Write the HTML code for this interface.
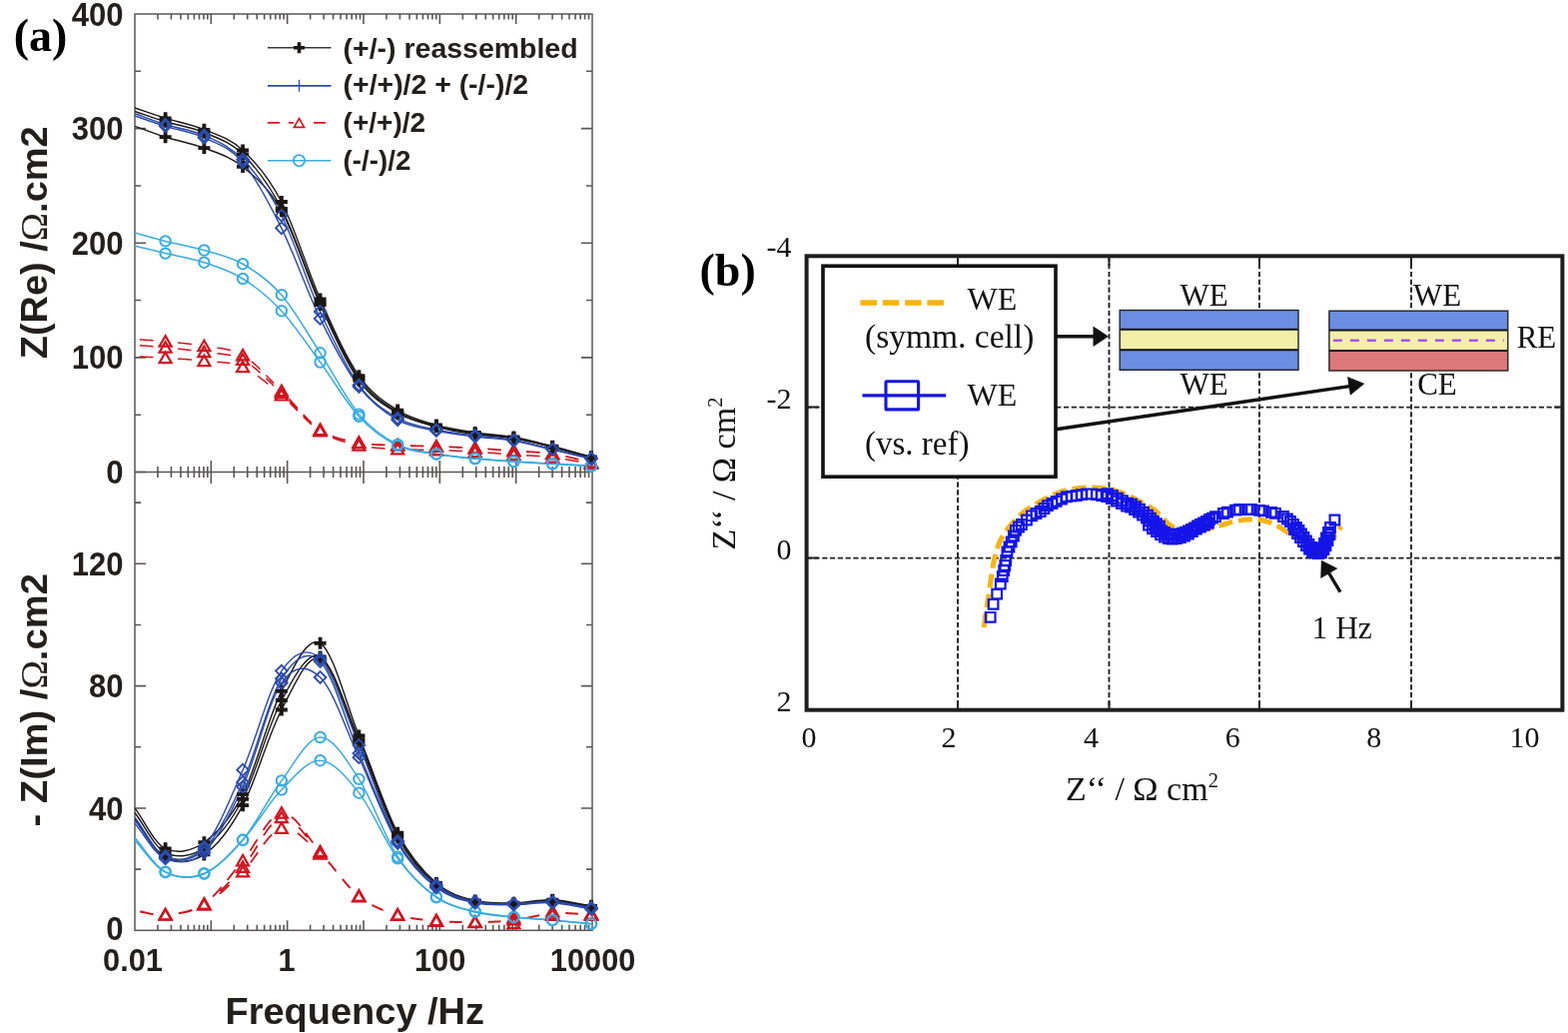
<!DOCTYPE html><html><head><meta charset="utf-8"><title>Impedance figure</title>
<style>html,body{margin:0;padding:0;background:#fff;overflow:hidden;}svg{display:block;}</style></head><body>
<svg width="1570" height="1034" viewBox="0 0 1570 1034">
<rect width="1570" height="1034" fill="#fff"/>
<defs><clipPath id="ca"><rect x="135.0" y="14.0" width="458.0" height="917.3"/></clipPath></defs>
<rect x="135.0" y="14.0" width="458.0" height="917.3" fill="none" stroke="#5a5756" stroke-width="1.5"/><line x1="135.0" y1="472.5" x2="593.0" y2="472.5" stroke="#5a5756" stroke-width="1.5"/><path d="M157.98,14.0v5.5M157.98,931.3v-5.5M157.98,467.0v11.0M171.42,14.0v5.5M171.42,931.3v-5.5M171.42,467.0v11.0M180.96,14.0v5.5M180.96,931.3v-5.5M180.96,467.0v11.0M188.35,14.0v5.5M188.35,931.3v-5.5M188.35,467.0v11.0M194.40,14.0v5.5M194.40,931.3v-5.5M194.40,467.0v11.0M199.51,14.0v5.5M199.51,931.3v-5.5M199.51,467.0v11.0M203.94,14.0v5.5M203.94,931.3v-5.5M203.94,467.0v11.0M207.84,14.0v5.5M207.84,931.3v-5.5M207.84,467.0v11.0M211.33,14.0v10.0M211.33,931.3v-10.0M211.33,461.0v23.0M234.31,14.0v5.5M234.31,931.3v-5.5M234.31,467.0v11.0M247.75,14.0v5.5M247.75,931.3v-5.5M247.75,467.0v11.0M257.29,14.0v5.5M257.29,931.3v-5.5M257.29,467.0v11.0M264.69,14.0v5.5M264.69,931.3v-5.5M264.69,467.0v11.0M270.73,14.0v5.5M270.73,931.3v-5.5M270.73,467.0v11.0M275.84,14.0v5.5M275.84,931.3v-5.5M275.84,467.0v11.0M280.27,14.0v5.5M280.27,931.3v-5.5M280.27,467.0v11.0M284.17,14.0v5.5M284.17,931.3v-5.5M284.17,467.0v11.0M287.67,14.0v10.0M287.67,931.3v-10.0M287.67,461.0v23.0M310.65,14.0v5.5M310.65,931.3v-5.5M310.65,467.0v11.0M324.09,14.0v5.5M324.09,931.3v-5.5M324.09,467.0v11.0M333.62,14.0v5.5M333.62,931.3v-5.5M333.62,467.0v11.0M341.02,14.0v5.5M341.02,931.3v-5.5M341.02,467.0v11.0M347.07,14.0v5.5M347.07,931.3v-5.5M347.07,467.0v11.0M352.18,14.0v5.5M352.18,931.3v-5.5M352.18,467.0v11.0M356.60,14.0v5.5M356.60,931.3v-5.5M356.60,467.0v11.0M360.51,14.0v5.5M360.51,931.3v-5.5M360.51,467.0v11.0M364.00,14.0v10.0M364.00,931.3v-10.0M364.00,461.0v23.0M386.98,14.0v5.5M386.98,931.3v-5.5M386.98,467.0v11.0M400.42,14.0v5.5M400.42,931.3v-5.5M400.42,467.0v11.0M409.96,14.0v5.5M409.96,931.3v-5.5M409.96,467.0v11.0M417.35,14.0v5.5M417.35,931.3v-5.5M417.35,467.0v11.0M423.40,14.0v5.5M423.40,931.3v-5.5M423.40,467.0v11.0M428.51,14.0v5.5M428.51,931.3v-5.5M428.51,467.0v11.0M432.94,14.0v5.5M432.94,931.3v-5.5M432.94,467.0v11.0M436.84,14.0v5.5M436.84,931.3v-5.5M436.84,467.0v11.0M440.33,14.0v10.0M440.33,931.3v-10.0M440.33,461.0v23.0M463.31,14.0v5.5M463.31,931.3v-5.5M463.31,467.0v11.0M476.75,14.0v5.5M476.75,931.3v-5.5M476.75,467.0v11.0M486.29,14.0v5.5M486.29,931.3v-5.5M486.29,467.0v11.0M493.69,14.0v5.5M493.69,931.3v-5.5M493.69,467.0v11.0M499.73,14.0v5.5M499.73,931.3v-5.5M499.73,467.0v11.0M504.84,14.0v5.5M504.84,931.3v-5.5M504.84,467.0v11.0M509.27,14.0v5.5M509.27,931.3v-5.5M509.27,467.0v11.0M513.17,14.0v5.5M513.17,931.3v-5.5M513.17,467.0v11.0M516.67,14.0v10.0M516.67,931.3v-10.0M516.67,461.0v23.0M539.65,14.0v5.5M539.65,931.3v-5.5M539.65,467.0v11.0M553.09,14.0v5.5M553.09,931.3v-5.5M553.09,467.0v11.0M562.62,14.0v5.5M562.62,931.3v-5.5M562.62,467.0v11.0M570.02,14.0v5.5M570.02,931.3v-5.5M570.02,467.0v11.0M576.07,14.0v5.5M576.07,931.3v-5.5M576.07,467.0v11.0M581.18,14.0v5.5M581.18,931.3v-5.5M581.18,467.0v11.0M585.60,14.0v5.5M585.60,931.3v-5.5M585.60,467.0v11.0M589.51,14.0v5.5M589.51,931.3v-5.5M589.51,467.0v11.0M135.0,472.50h11.0M135.0,415.19h6.0M593.0,415.19h-6.0M135.0,357.88h11.0M593.0,357.88h-11.0M135.0,300.56h6.0M593.0,300.56h-6.0M135.0,243.25h11.0M593.0,243.25h-11.0M135.0,185.94h6.0M593.0,185.94h-6.0M135.0,128.62h11.0M593.0,128.62h-11.0M135.0,71.31h6.0M593.0,71.31h-6.0M135.0,870.13h6.0M593.0,870.13h-6.0M135.0,808.95h11.0M593.0,808.95h-11.0M135.0,747.78h6.0M593.0,747.78h-6.0M135.0,686.61h11.0M593.0,686.61h-11.0M135.0,625.43h6.0M593.0,625.43h-6.0M135.0,564.26h11.0M593.0,564.26h-11.0M135.0,503.09h6.0M593.0,503.09h-6.0" stroke="#5a5756" stroke-width="1.6" fill="none"/>
<g clip-path="url(#ca)"><path d="M139.9,339.9 L140.3,339.9 L140.6,339.9 L141.0,340.0 L141.4,340.0 L141.7,340.0 L142.1,340.0 L142.5,340.1 L142.8,340.1 L143.2,340.1 L143.6,340.1 L143.9,340.2 L144.3,340.2 L144.7,340.2 L145.0,340.2 L145.4,340.2 L145.8,340.3 L146.1,340.3 L146.5,340.3 L146.8,340.3 L147.2,340.4 L147.6,340.4 L147.9,340.4 L148.3,340.4 L148.7,340.5 L149.1,340.5 L149.4,340.5 L149.8,340.5 L150.2,340.6 L150.5,340.6 L150.9,340.6 L151.3,340.6 L151.6,340.7 L152.0,340.7 L152.4,340.7 L152.8,340.7 L153.1,340.8 L153.5,340.8M178.1,343.0 L178.6,343.1 L179.0,343.1 L179.5,343.2 L180.0,343.2 L180.5,343.3 L181.0,343.3 L181.5,343.4 L182.0,343.4 L182.5,343.5 L183.0,343.5 L183.5,343.6 L184.0,343.6 L184.5,343.7 L185.0,343.7 L185.5,343.8 L186.0,343.9 L186.5,343.9 L187.0,344.0 L187.5,344.0 L188.0,344.1 L188.5,344.1 L189.0,344.2 L189.5,344.3 L190.0,344.3 L190.5,344.4 L191.0,344.4 L191.5,344.5 L192.0,344.6M217.4,348.2 L217.9,348.2 L218.4,348.3 L218.9,348.3 L219.4,348.4 L219.9,348.5 L220.3,348.5 L220.8,348.6 L221.3,348.7 L221.8,348.7 L222.3,348.8 L222.8,348.9 L223.3,349.0 L223.7,349.0 L224.2,349.1 L224.7,349.2 L225.2,349.3 L225.7,349.4 L226.2,349.5 L226.6,349.6 L227.1,349.7 L227.6,349.8 L228.1,349.9 L228.6,350.0 L229.1,350.1 L229.6,350.2 L230.0,350.3 L230.5,350.5 L231.0,350.6M251.8,361.8 L252.3,362.2 L252.8,362.6 L253.3,363.0 L253.8,363.4 L254.3,363.8 L254.7,364.3 L255.2,364.7 L255.7,365.1 L256.2,365.6 L256.7,366.0 L257.2,366.5 L257.7,366.9 L258.1,367.4 L258.6,367.8 L259.1,368.3 L259.6,368.8 L260.1,369.2 L260.6,369.7M266.4,375.5 L266.9,376.0 L267.3,376.5 L267.8,377.0 L268.3,377.5 L268.8,378.0 L269.3,378.5 L269.8,379.0 L270.3,379.6 L270.7,380.1 L271.2,380.6 L271.7,381.1 L272.2,381.6 L272.7,382.1 L273.2,382.6 L273.6,383.1 L274.1,383.6M289.6,399.3 L290.1,399.9 L290.6,400.4 L291.1,400.9 L291.6,401.5 L292.1,402.0 L292.5,402.5 L293.0,403.1 L293.5,403.6 L294.0,404.1 L294.5,404.7 L295.0,405.2 L295.4,405.8 L295.9,406.3 L296.4,406.8 L296.9,407.4 L297.4,407.9 L297.9,408.5M303.7,414.8 L304.2,415.4 L304.7,415.9 L305.1,416.4 L305.6,416.9 L306.1,417.4 L306.6,417.9 L307.1,418.4 L307.6,418.9 L308.0,419.4 L308.5,419.9 L309.0,420.4 L309.5,420.8 L310.0,421.3 L310.5,421.8 L310.9,422.2 L311.4,422.7 L311.9,423.2M332.8,436.5 L333.2,436.7 L333.7,436.9 L334.2,437.0 L334.7,437.2 L335.2,437.4 L335.7,437.5 L336.1,437.7 L336.6,437.9 L337.1,438.0 L337.6,438.2 L338.1,438.3 L338.6,438.5 L339.1,438.6 L339.5,438.8 L340.0,438.9 L340.5,439.0 L341.0,439.2 L341.5,439.3 L342.0,439.4 L342.4,439.5 L342.9,439.7 L343.4,439.8 L343.9,439.9 L344.4,440.0 L344.9,440.1 L345.3,440.2 L345.8,440.3M372.0,444.7 L372.5,444.7 L373.0,444.7 L373.5,444.8 L373.9,444.8 L374.4,444.8 L374.9,444.9 L375.4,444.9 L375.9,444.9 L376.4,444.9 L376.8,445.0 L377.3,445.0 L377.8,445.0 L378.3,445.0 L378.8,445.0 L379.3,445.1 L379.7,445.1 L380.2,445.1 L380.7,445.1 L381.2,445.1 L381.7,445.1 L382.2,445.1 L382.7,445.1 L383.1,445.2 L383.6,445.2 L384.1,445.2 L384.6,445.2 L385.1,445.2 L385.6,445.2M410.8,446.0 L411.2,446.0 L411.7,446.0 L412.2,446.1 L412.7,446.1 L413.2,446.1 L413.7,446.1 L414.1,446.1 L414.6,446.1 L415.1,446.1 L415.6,446.1 L416.1,446.2 L416.6,446.2 L417.1,446.2 L417.5,446.2 L418.0,446.2 L418.5,446.2 L419.0,446.2 L419.5,446.2 L420.0,446.2 L420.4,446.3 L420.9,446.3 L421.4,446.3 L421.9,446.3 L422.4,446.3 L422.9,446.3 L423.4,446.3 L423.8,446.3 L424.3,446.3M449.5,447.2 L450.0,447.2 L450.5,447.2 L451.0,447.2 L451.5,447.3 L451.9,447.3 L452.4,447.3 L452.9,447.3 L453.4,447.3 L453.9,447.4 L454.4,447.4 L454.8,447.4 L455.3,447.4 L455.8,447.4 L456.3,447.5 L456.8,447.5 L457.3,447.5 L457.8,447.5 L458.2,447.6 L458.7,447.6 L459.2,447.6 L459.7,447.6 L460.2,447.6 L460.7,447.7 L461.1,447.7 L461.6,447.7 L462.1,447.7 L462.6,447.8 L463.1,447.8M488.3,449.2 L488.8,449.3 L489.2,449.3 L489.7,449.3 L490.2,449.4 L490.7,449.4 L491.2,449.4 L491.7,449.5 L492.2,449.5 L492.6,449.5 L493.1,449.6 L493.6,449.6 L494.1,449.7 L494.6,449.7 L495.1,449.7 L495.5,449.8 L496.0,449.8 L496.5,449.8 L497.0,449.9 L497.5,449.9 L498.0,449.9 L498.5,450.0 L498.9,450.0 L499.4,450.0 L499.9,450.1 L500.4,450.1 L500.9,450.2 L501.4,450.2 L501.8,450.2M527.0,451.9 L527.5,452.0 L528.0,452.0 L528.5,452.0 L529.0,452.0 L529.5,452.1 L529.9,452.1 L530.4,452.1 L530.9,452.1 L531.4,452.2 L531.9,452.2 L532.4,452.2 L532.9,452.2 L533.3,452.3 L533.8,452.3 L534.3,452.3 L534.8,452.4 L535.3,452.4 L535.8,452.4 L536.2,452.5 L536.7,452.5 L537.2,452.5 L537.7,452.6 L538.2,452.6 L538.7,452.6 L539.1,452.7 L539.6,452.7 L540.1,452.7 L540.6,452.8M566.3,456.6 L566.8,456.8 L567.3,456.9 L567.7,457.0 L568.2,457.1 L568.7,457.2 L569.2,457.3 L569.7,457.4 L570.2,457.5 L570.6,457.6 L571.1,457.8 L571.6,457.9 L572.1,458.0 L572.6,458.1 L573.1,458.2 L573.5,458.3 L574.0,458.5 L574.5,458.6 L575.0,458.7 L575.5,458.8 L576.0,458.9 L576.5,459.0 L576.9,459.2 L577.4,459.3 L577.9,459.4 L578.4,459.5 L578.9,459.6 L579.4,459.8M139.9,345.7 L140.3,345.7 L140.6,345.7 L141.0,345.8 L141.4,345.8 L141.7,345.8 L142.1,345.9 L142.5,345.9 L142.8,345.9 L143.2,345.9 L143.6,346.0 L143.9,346.0 L144.3,346.0 L144.7,346.1 L145.0,346.1 L145.4,346.1 L145.8,346.1 L146.1,346.2 L146.5,346.2 L146.8,346.2 L147.2,346.3 L147.6,346.3 L147.9,346.3 L148.3,346.4 L148.7,346.4 L149.1,346.4 L149.4,346.4 L149.8,346.5 L150.2,346.5 L150.5,346.5 L150.9,346.6 L151.3,346.6 L151.6,346.6 L152.0,346.7 L152.4,346.7 L152.8,346.7 L153.1,346.7 L153.5,346.8M178.1,349.2 L178.6,349.2 L179.0,349.2 L179.5,349.3 L180.0,349.3 L180.5,349.4 L181.0,349.4 L181.5,349.5 L182.0,349.6 L182.5,349.6 L183.0,349.7 L183.5,349.7 L184.0,349.8 L184.5,349.8 L185.0,349.9 L185.5,349.9 L186.0,350.0 L186.5,350.0 L187.0,350.1 L187.5,350.1 L188.0,350.2 L188.5,350.3 L189.0,350.3 L189.5,350.4 L190.0,350.4 L190.5,350.5 L191.0,350.5 L191.5,350.6M217.4,353.8 L217.9,353.8 L218.4,353.9 L218.9,353.9 L219.4,354.0 L219.9,354.0 L220.3,354.1 L220.8,354.1 L221.3,354.2 L221.8,354.2 L222.3,354.3 L222.8,354.4 L223.3,354.4 L223.7,354.5 L224.2,354.5 L224.7,354.6 L225.2,354.7 L225.7,354.7 L226.2,354.8 L226.6,354.9 L227.1,355.0 L227.6,355.1 L228.1,355.1 L228.6,355.2 L229.1,355.3 L229.6,355.4 L230.0,355.5 L230.5,355.6 L231.0,355.7M252.3,366.2 L252.8,366.6 L253.3,367.0 L253.8,367.4 L254.3,367.8 L254.7,368.1 L255.2,368.5 L255.7,368.9 L256.2,369.4 L256.7,369.8 L257.2,370.2 L257.7,370.6 L258.1,371.0 L258.6,371.4 L259.1,371.9 L259.6,372.3 L260.1,372.7 L260.6,373.2M266.4,378.6 L266.9,379.1 L267.3,379.5 L267.8,380.0 L268.3,380.5 L268.8,380.9 L269.3,381.4 L269.8,381.9 L270.3,382.3 L270.7,382.8 L271.2,383.3 L271.7,383.8 L272.2,384.2 L272.7,384.7 L273.2,385.2 L273.6,385.6 L274.1,386.1M289.6,401.0 L290.1,401.5 L290.6,402.0 L291.1,402.5 L291.6,403.0 L292.1,403.5 L292.5,404.0 L293.0,404.5 L293.5,405.0 L294.0,405.5 L294.5,406.1 L295.0,406.6 L295.4,407.1 L295.9,407.6 L296.4,408.1 L296.9,408.6 L297.4,409.1 L297.9,409.7M303.7,415.8 L304.2,416.3 L304.7,416.8 L305.1,417.3 L305.6,417.7 L306.1,418.2 L306.6,418.7 L307.1,419.2 L307.6,419.7 L308.0,420.1 L308.5,420.6 L309.0,421.1 L309.5,421.5 L310.0,422.0 L310.5,422.4 L310.9,422.9 L311.4,423.3 L311.9,423.8M332.8,436.7 L333.2,436.9 L333.7,437.1 L334.2,437.2 L334.7,437.4 L335.2,437.6 L335.7,437.8 L336.1,437.9 L336.6,438.1 L337.1,438.2 L337.6,438.4 L338.1,438.6 L338.6,438.7 L339.1,438.8 L339.5,439.0 L340.0,439.1 L340.5,439.3 L341.0,439.4 L341.5,439.5 L342.0,439.7 L342.4,439.8 L342.9,439.9 L343.4,440.0 L343.9,440.2 L344.4,440.3 L344.9,440.4 L345.3,440.5 L345.8,440.6M372.0,445.0 L372.5,445.1 L373.0,445.1 L373.5,445.1 L373.9,445.1 L374.4,445.2 L374.9,445.2 L375.4,445.2 L375.9,445.3 L376.4,445.3 L376.8,445.3 L377.3,445.3 L377.8,445.3 L378.3,445.4 L378.8,445.4 L379.3,445.4 L379.7,445.4 L380.2,445.4 L380.7,445.4 L381.2,445.5 L381.7,445.5 L382.2,445.5 L382.7,445.5 L383.1,445.5 L383.6,445.5 L384.1,445.5 L384.6,445.5 L385.1,445.5 L385.6,445.6M410.8,446.4 L411.2,446.4 L411.7,446.4 L412.2,446.4 L412.7,446.4 L413.2,446.4 L413.7,446.4 L414.1,446.4 L414.6,446.5 L415.1,446.5 L415.6,446.5 L416.1,446.5 L416.6,446.5 L417.1,446.5 L417.5,446.5 L418.0,446.5 L418.5,446.6 L419.0,446.6 L419.5,446.6 L420.0,446.6 L420.4,446.6 L420.9,446.6 L421.4,446.6 L421.9,446.6 L422.4,446.6 L422.9,446.7 L423.4,446.7 L423.8,446.7 L424.3,446.7M449.5,447.5 L450.0,447.6 L450.5,447.6 L451.0,447.6 L451.5,447.6 L451.9,447.6 L452.4,447.7 L452.9,447.7 L453.4,447.7 L453.9,447.7 L454.4,447.7 L454.8,447.8 L455.3,447.8 L455.8,447.8 L456.3,447.8 L456.8,447.8 L457.3,447.9 L457.8,447.9 L458.2,447.9 L458.7,447.9 L459.2,447.9 L459.7,448.0 L460.2,448.0 L460.7,448.0 L461.1,448.0 L461.6,448.0 L462.1,448.1 L462.6,448.1 L463.1,448.1M488.3,449.6 L488.8,449.6 L489.2,449.7 L489.7,449.7 L490.2,449.7 L490.7,449.8 L491.2,449.8 L491.7,449.8 L492.2,449.9 L492.6,449.9 L493.1,449.9 L493.6,450.0 L494.1,450.0 L494.6,450.0 L495.1,450.1 L495.5,450.1 L496.0,450.1 L496.5,450.2 L497.0,450.2 L497.5,450.2 L498.0,450.3 L498.5,450.3 L498.9,450.4 L499.4,450.4 L499.9,450.4 L500.4,450.5 L500.9,450.5 L501.4,450.5 L501.8,450.6M527.0,452.3 L527.5,452.3 L528.0,452.3 L528.5,452.4 L529.0,452.4 L529.5,452.4 L529.9,452.4 L530.4,452.5 L530.9,452.5 L531.4,452.5 L531.9,452.5 L532.4,452.6 L532.9,452.6 L533.3,452.6 L533.8,452.7 L534.3,452.7 L534.8,452.7 L535.3,452.7 L535.8,452.8 L536.2,452.8 L536.7,452.8 L537.2,452.9 L537.7,452.9 L538.2,452.9 L538.7,453.0 L539.1,453.0 L539.6,453.0 L540.1,453.1 L540.6,453.1M566.3,457.0 L566.8,457.1 L567.3,457.2 L567.7,457.3 L568.2,457.4 L568.7,457.5 L569.2,457.6 L569.7,457.7 L570.2,457.8 L570.6,457.9 L571.1,458.1 L571.6,458.2 L572.1,458.3 L572.6,458.4 L573.1,458.5 L573.5,458.6 L574.0,458.7 L574.5,458.9 L575.0,459.0 L575.5,459.1 L576.0,459.2 L576.5,459.3 L576.9,459.4 L577.4,459.6 L577.9,459.7 L578.4,459.8 L578.9,459.9 L579.4,460.0M139.9,357.0 L140.3,357.0 L140.6,357.0 L141.0,357.0 L141.4,357.0 L141.7,357.1 L142.1,357.1 L142.5,357.1 L142.8,357.1 L143.2,357.1 L143.6,357.1 L143.9,357.2 L144.3,357.2 L144.7,357.2 L145.0,357.2 L145.4,357.2 L145.8,357.3 L146.1,357.3 L146.5,357.3 L146.8,357.3 L147.2,357.3 L147.6,357.3 L147.9,357.4 L148.3,357.4 L148.7,357.4 L149.1,357.4 L149.4,357.4 L149.8,357.4 L150.2,357.5 L150.5,357.5 L150.9,357.5 L151.3,357.5 L151.6,357.5 L152.0,357.6 L152.4,357.6 L152.8,357.6 L153.1,357.6 L153.5,357.6M178.1,359.1 L178.6,359.2 L179.0,359.2 L179.5,359.2 L180.0,359.2 L180.5,359.3 L181.0,359.3 L181.5,359.3 L182.0,359.4 L182.5,359.4 L183.0,359.4 L183.5,359.5 L184.0,359.5 L184.5,359.5 L185.0,359.6 L185.5,359.6 L186.0,359.6 L186.5,359.7 L187.0,359.7 L187.5,359.8 L188.0,359.8 L188.5,359.8 L189.0,359.9 L189.5,359.9 L190.0,359.9 L190.5,360.0 L191.0,360.0 L191.5,360.1 L192.0,360.1M217.4,362.3 L217.9,362.3 L218.4,362.4 L218.9,362.4 L219.4,362.4 L219.9,362.5 L220.3,362.5 L220.8,362.5 L221.3,362.6 L221.8,362.6 L222.3,362.6 L222.8,362.7 L223.3,362.7 L223.7,362.8 L224.2,362.8 L224.7,362.9 L225.2,362.9 L225.7,363.0 L226.2,363.0 L226.6,363.1 L227.1,363.1 L227.6,363.2 L228.1,363.3 L228.6,363.3 L229.1,363.4 L229.6,363.5 L230.0,363.6 L230.5,363.7M258.1,376.4 L258.6,376.7 L259.1,377.1 L259.6,377.5 L260.1,377.8 L260.6,378.2 L261.0,378.6 L261.5,378.9 L262.0,379.3 L262.5,379.7 L263.0,380.1 L263.5,380.4 L264.0,380.8 L264.4,381.2 L264.9,381.6 L265.4,382.0 L265.9,382.4 L266.4,382.8 L266.9,383.1 L267.3,383.5 L267.8,383.9 L268.3,384.3M290.1,403.2 L290.6,403.7 L291.1,404.2 L291.6,404.7 L292.1,405.2 L292.5,405.6 L293.0,406.1 L293.5,406.6 L294.0,407.1 L294.5,407.6 L295.0,408.1 L295.4,408.6 L295.9,409.1 L296.4,409.6 L296.9,410.1 L297.4,410.6 L297.9,411.1M303.7,417.0 L304.2,417.5 L304.7,418.0 L305.1,418.5 L305.6,419.0 L306.1,419.5 L306.6,419.9 L307.1,420.4 L307.6,420.9 L308.0,421.3 L308.5,421.8 L309.0,422.3 L309.5,422.7 L310.0,423.2 L310.5,423.6 L310.9,424.1 L311.4,424.5 L311.9,424.9M333.2,438.3 L333.7,438.5 L334.2,438.7 L334.7,438.8 L335.2,439.0 L335.7,439.2 L336.1,439.4 L336.6,439.6 L337.1,439.8 L337.6,439.9 L338.1,440.1 L338.6,440.3 L339.1,440.4 L339.5,440.6 L340.0,440.8 L340.5,440.9 L341.0,441.1 L341.5,441.2 L342.0,441.4 L342.4,441.5 L342.9,441.7 L343.4,441.8 L343.9,441.9 L344.4,442.1 L344.9,442.2 L345.3,442.4 L345.8,442.5M372.0,447.9 L372.5,447.9 L373.0,448.0 L373.5,448.0 L373.9,448.1 L374.4,448.1 L374.9,448.2 L375.4,448.2 L375.9,448.3 L376.4,448.3 L376.8,448.4 L377.3,448.4 L377.8,448.4 L378.3,448.5 L378.8,448.5 L379.3,448.5 L379.7,448.6 L380.2,448.6 L380.7,448.6 L381.2,448.7 L381.7,448.7 L382.2,448.7 L382.7,448.8 L383.1,448.8 L383.6,448.8 L384.1,448.8 L384.6,448.9 L385.1,448.9 L385.6,448.9M410.8,450.1 L411.2,450.1 L411.7,450.1 L412.2,450.1 L412.7,450.1 L413.2,450.1 L413.7,450.1 L414.1,450.1 L414.6,450.1 L415.1,450.1 L415.6,450.1 L416.1,450.1 L416.6,450.1 L417.1,450.1 L417.5,450.2 L418.0,450.2 L418.5,450.2 L419.0,450.2 L419.5,450.2 L420.0,450.2 L420.4,450.2 L420.9,450.2 L421.4,450.2 L421.9,450.2 L422.4,450.2 L422.9,450.2 L423.4,450.2 L423.8,450.2 L424.3,450.2M449.5,451.0 L450.0,451.0 L450.5,451.0 L451.0,451.1 L451.5,451.1 L451.9,451.1 L452.4,451.1 L452.9,451.1 L453.4,451.2 L453.9,451.2 L454.4,451.2 L454.8,451.2 L455.3,451.2 L455.8,451.3 L456.3,451.3 L456.8,451.3 L457.3,451.3 L457.8,451.4 L458.2,451.4 L458.7,451.4 L459.2,451.4 L459.7,451.5 L460.2,451.5 L460.7,451.5 L461.1,451.5 L461.6,451.6 L462.1,451.6 L462.6,451.6 L463.1,451.6M488.3,453.2 L488.8,453.2 L489.2,453.2 L489.7,453.3 L490.2,453.3 L490.7,453.3 L491.2,453.4 L491.7,453.4 L492.2,453.4 L492.6,453.5 L493.1,453.5 L493.6,453.5 L494.1,453.6 L494.6,453.6 L495.1,453.6 L495.5,453.7 L496.0,453.7 L496.5,453.8 L497.0,453.8 L497.5,453.8 L498.0,453.9 L498.5,453.9 L498.9,453.9 L499.4,454.0 L499.9,454.0 L500.4,454.0 L500.9,454.1 L501.4,454.1 L501.8,454.2M527.0,455.8 L527.5,455.9 L528.0,455.9 L528.5,455.9 L529.0,455.9 L529.5,456.0 L529.9,456.0 L530.4,456.0 L530.9,456.1 L531.4,456.1 L531.9,456.1 L532.4,456.1 L532.9,456.2 L533.3,456.2 L533.8,456.2 L534.3,456.3 L534.8,456.3 L535.3,456.3 L535.8,456.3 L536.2,456.4 L536.7,456.4 L537.2,456.4 L537.7,456.5 L538.2,456.5 L538.7,456.5 L539.1,456.6 L539.6,456.6 L540.1,456.6 L540.6,456.7M565.8,459.6 L566.3,459.7 L566.8,459.8 L567.3,459.9 L567.7,460.0 L568.2,460.0 L568.7,460.1 L569.2,460.2 L569.7,460.3 L570.2,460.4 L570.6,460.5 L571.1,460.6 L571.6,460.6 L572.1,460.7 L572.6,460.8 L573.1,460.9 L573.5,461.0 L574.0,461.1 L574.5,461.2 L575.0,461.2 L575.5,461.3 L576.0,461.4 L576.5,461.5 L576.9,461.6 L577.4,461.7 L577.9,461.8 L578.4,461.9 L578.9,461.9 L579.4,462.0" stroke="#d21420" stroke-width="1.5" fill="none"/><path d="M140.3,912.1 L140.6,912.2 L141.0,912.3 L141.4,912.4 L141.7,912.4 L142.1,912.5 L142.5,912.6 L142.8,912.7 L143.2,912.8 L143.6,912.9 L143.9,913.0 L144.3,913.1 L144.7,913.1 L145.0,913.2 L145.4,913.3 L145.8,913.4 L146.1,913.5 L146.5,913.6 L146.8,913.7 L147.2,913.8 L147.6,913.9 L147.9,913.9 L148.3,914.0 L148.7,914.1 L149.1,914.2 L149.4,914.3 L149.8,914.4 L150.2,914.4 L150.5,914.5 L150.9,914.6 L151.3,914.7 L151.6,914.8 L152.0,914.8 L152.4,914.9 L152.8,915.0 L153.1,915.0 L153.5,915.1M179.0,914.3 L179.5,914.2 L180.0,914.2 L180.5,914.1 L181.0,914.0 L181.5,913.9 L182.0,913.8 L182.5,913.7 L183.0,913.7 L183.5,913.6 L184.0,913.5 L184.5,913.3 L185.0,913.2 L185.5,913.1 L186.0,913.0 L186.5,912.9 L187.0,912.8 L187.5,912.6 L188.0,912.5 L188.5,912.4 L189.0,912.2 L189.5,912.1 L190.0,911.9 L190.5,911.8 L191.0,911.6 L191.5,911.4 L192.0,911.3 L192.5,911.1M213.1,897.5 L213.6,897.0 L214.0,896.5 L214.5,896.0 L215.0,895.5 L215.5,895.0 L216.0,894.5 L216.5,894.0 L217.0,893.5 L217.4,892.9 L217.9,892.4 L218.4,891.8 L218.9,891.3 L219.4,890.7 L219.9,890.2 L220.3,889.6 L220.8,889.1 L221.3,888.5 L221.8,887.9M227.6,880.8 L228.1,880.2 L228.6,879.6 L229.1,879.0 L229.6,878.4 L230.0,877.8 L230.5,877.2 L231.0,876.6 L231.5,875.9 L232.0,875.3 L232.5,874.7 L232.9,874.1 L233.4,873.5 L233.9,872.9 L234.4,872.3 L234.9,871.7 L235.4,871.0 L235.9,870.4M250.4,851.6 L250.9,850.9 L251.4,850.2 L251.8,849.4 L252.3,848.7 L252.8,847.9 L253.3,847.2 L253.8,846.4 L254.3,845.6 L254.7,844.8 L255.2,844.1 L255.7,843.3 L256.2,842.5 L256.7,841.7 L257.2,841.0 L257.7,840.2M263.5,831.1 L264.0,830.4 L264.4,829.7 L264.9,829.0 L265.4,828.3 L265.9,827.6 L266.4,826.9 L266.9,826.3 L267.3,825.6 L267.8,825.0 L268.3,824.3 L268.8,823.7 L269.3,823.1 L269.8,822.5 L270.3,822.0 L270.7,821.4 L271.2,820.9 L271.7,820.3M292.1,817.7 L292.5,818.0 L293.0,818.5 L293.5,818.9 L294.0,819.3 L294.5,819.8 L295.0,820.2 L295.4,820.7 L295.9,821.2 L296.4,821.7 L296.9,822.2 L297.4,822.8 L297.9,823.3 L298.4,823.8 L298.8,824.4 L299.3,825.0 L299.8,825.6 L300.3,826.1 L300.8,826.7M306.1,833.7 L306.6,834.4 L307.1,835.0 L307.6,835.7 L308.0,836.3 L308.5,837.0 L309.0,837.7 L309.5,838.3 L310.0,839.0 L310.5,839.6 L310.9,840.3 L311.4,841.0 L311.9,841.6 L312.4,842.3 L312.9,842.9 L313.4,843.5M140.3,912.4 L140.6,912.4 L141.0,912.5 L141.4,912.6 L141.7,912.7 L142.1,912.8 L142.5,912.8 L142.8,912.9 L143.2,913.0 L143.6,913.1 L143.9,913.2 L144.3,913.3 L144.7,913.3 L145.0,913.4 L145.4,913.5 L145.8,913.6 L146.1,913.7 L146.5,913.8 L146.8,913.9 L147.2,913.9 L147.6,914.0 L147.9,914.1 L148.3,914.2 L148.7,914.3 L149.1,914.3 L149.4,914.4 L149.8,914.5 L150.2,914.6 L150.5,914.6 L150.9,914.7 L151.3,914.8 L151.6,914.9 L152.0,914.9 L152.4,915.0 L152.8,915.1 L153.1,915.1 L153.5,915.2M179.0,914.0 L179.5,913.9 L180.0,913.9 L180.5,913.8 L181.0,913.7 L181.5,913.6 L182.0,913.5 L182.5,913.4 L183.0,913.3 L183.5,913.2 L184.0,913.0 L184.5,912.9 L185.0,912.8 L185.5,912.7 L186.0,912.6 L186.5,912.4 L187.0,912.3 L187.5,912.2 L188.0,912.0 L188.5,911.9 L189.0,911.7 L189.5,911.6 L190.0,911.4 L190.5,911.3 L191.0,911.1 L191.5,911.0 L192.0,910.8M220.3,892.2 L220.8,891.8 L221.3,891.3 L221.8,890.8 L222.3,890.4 L222.8,889.9 L223.3,889.4 L223.7,888.9 L224.2,888.4 L224.7,887.9 L225.2,887.5 L225.7,887.0 L226.2,886.5 L226.6,886.0 L227.1,885.5 L227.6,885.0 L228.1,884.4 L228.6,883.9 L229.1,883.4 L229.6,882.9M250.9,857.5 L251.4,856.8 L251.8,856.0 L252.3,855.3 L252.8,854.5 L253.3,853.7 L253.8,852.9 L254.3,852.2 L254.7,851.4 L255.2,850.6 L255.7,849.8 L256.2,849.0 L256.7,848.2 L257.2,847.4 L257.7,846.6M264.0,836.4 L264.4,835.6 L264.9,834.9 L265.4,834.2 L265.9,833.4 L266.4,832.7 L266.9,832.0 L267.3,831.3 L267.8,830.7 L268.3,830.0 L268.8,829.3 L269.3,828.7 L269.8,828.1 L270.3,827.4 L270.7,826.8 L271.2,826.3 L271.7,825.7M299.3,828.2 L299.8,828.7 L300.3,829.3 L300.8,829.8 L301.3,830.4 L301.7,831.0 L302.2,831.5 L302.7,832.1 L303.2,832.7 L303.7,833.3 L304.2,833.9 L304.7,834.5 L305.1,835.1 L305.6,835.7 L306.1,836.3 L306.6,836.9 L307.1,837.5 L307.6,838.2M140.3,912.6 L140.6,912.7 L141.0,912.7 L141.4,912.8 L141.7,912.9 L142.1,913.0 L142.5,913.0 L142.8,913.1 L143.2,913.2 L143.6,913.3 L143.9,913.4 L144.3,913.4 L144.7,913.5 L145.0,913.6 L145.4,913.7 L145.8,913.7 L146.1,913.8 L146.5,913.9 L146.8,914.0 L147.2,914.1 L147.6,914.1 L147.9,914.2 L148.3,914.3 L148.7,914.4 L149.1,914.4 L149.4,914.5 L149.8,914.6 L150.2,914.6 L150.5,914.7 L150.9,914.8 L151.3,914.8 L151.6,914.9 L152.0,915.0 L152.4,915.0 L152.8,915.1 L153.1,915.2 L153.5,915.2M179.0,914.2 L179.5,914.1 L180.0,914.0 L180.5,913.9 L181.0,913.8 L181.5,913.7 L182.0,913.6 L182.5,913.5 L183.0,913.4 L183.5,913.3 L184.0,913.2 L184.5,913.1 L185.0,913.0 L185.5,912.9 L186.0,912.8 L186.5,912.7 L187.0,912.6 L187.5,912.4 L188.0,912.3 L188.5,912.2 L189.0,912.1 L189.5,911.9 L190.0,911.8 L190.5,911.6 L191.0,911.5 L191.5,911.3 L192.0,911.2M219.9,894.8 L220.3,894.3 L220.8,893.9 L221.3,893.5 L221.8,893.1 L222.3,892.6 L222.8,892.2 L223.3,891.8 L223.7,891.3 L224.2,890.9 L224.7,890.5 L225.2,890.0 L225.7,889.6 L226.2,889.1 L226.6,888.7 L227.1,888.2 L227.6,887.8 L228.1,887.3 L228.6,886.9 L229.1,886.4 L229.6,885.9M250.9,863.4 L251.4,862.8 L251.8,862.1 L252.3,861.5 L252.8,860.8 L253.3,860.1 L253.8,859.5 L254.3,858.8 L254.7,858.1 L255.2,857.4 L255.7,856.7 L256.2,856.1 L256.7,855.4 L257.2,854.7 L257.7,854.0 L258.1,853.3M264.0,845.2 L264.4,844.5 L264.9,843.9 L265.4,843.3 L265.9,842.6 L266.4,842.0 L266.9,841.4 L267.3,840.8 L267.8,840.2 L268.3,839.6 L268.8,839.1 L269.3,838.5 L269.8,837.9 L270.3,837.4 L270.7,836.9 L271.2,836.4 L271.7,835.9 L272.2,835.4M297.9,834.0 L298.4,834.3 L298.8,834.7 L299.3,835.0 L299.8,835.4 L300.3,835.8 L300.8,836.2 L301.3,836.6 L301.7,837.0 L302.2,837.4 L302.7,837.8 L303.2,838.3 L303.7,838.7 L304.2,839.1 L304.7,839.6 L305.1,840.0 L305.6,840.5 L306.1,840.9 L306.6,841.4 L307.1,841.8 L307.6,842.3 L308.0,842.8" stroke="#d21420" stroke-width="1.8" fill="none"/><path d="M328.9,862.7 L329.4,863.3 L329.8,863.9 L330.3,864.5 L330.8,865.0 L331.3,865.6 L331.8,866.2 L332.3,866.8 L332.8,867.4 L333.2,868.0 L333.7,868.6 L334.2,869.2 L334.7,869.8 L335.2,870.4 L335.7,871.0 L336.1,871.6 L336.6,872.2M342.9,880.0 L343.4,880.5 L343.9,881.1 L344.4,881.7 L344.9,882.3 L345.3,882.9 L345.8,883.4 L346.3,884.0 L346.8,884.6 L347.3,885.1 L347.8,885.7 L348.3,886.2 L348.7,886.8 L349.2,887.3 L349.7,887.9 L350.2,888.4 L350.7,888.9M372.5,905.9 L373.0,906.1 L373.5,906.4 L373.9,906.6 L374.4,906.9 L374.9,907.1 L375.4,907.4 L375.9,907.6 L376.4,907.8 L376.8,908.1 L377.3,908.3 L377.8,908.5 L378.3,908.7 L378.8,908.9 L379.3,909.1 L379.7,909.4 L380.2,909.6 L380.7,909.8 L381.2,910.0 L381.7,910.2 L382.2,910.4 L382.7,910.6 L383.1,910.8 L383.6,910.9M411.2,919.0 L411.7,919.1 L412.2,919.1 L412.7,919.2 L413.2,919.3 L413.7,919.4 L414.1,919.4 L414.6,919.5 L415.1,919.6 L415.6,919.6 L416.1,919.7 L416.6,919.8 L417.1,919.8 L417.5,919.9 L418.0,919.9 L418.5,920.0 L419.0,920.1 L419.5,920.1 L420.0,920.2 L420.4,920.2 L420.9,920.3 L421.4,920.3 L421.9,920.4 L422.4,920.4 L422.9,920.5 L423.4,920.5M450.0,922.7 L450.5,922.7 L451.0,922.7 L451.5,922.7 L451.9,922.7 L452.4,922.8 L452.9,922.8 L453.4,922.8 L453.9,922.8 L454.4,922.8 L454.8,922.9 L455.3,922.9 L455.8,922.9 L456.3,922.9 L456.8,922.9 L457.3,923.0 L457.8,923.0 L458.2,923.0 L458.7,923.0 L459.2,923.0 L459.7,923.0 L460.2,923.0 L460.7,923.0 L461.1,923.1 L461.6,923.1 L462.1,923.1 L462.6,923.1M488.8,922.9 L489.2,922.9 L489.7,922.9 L490.2,922.8 L490.7,922.8 L491.2,922.8 L491.7,922.8 L492.2,922.8 L492.6,922.7 L493.1,922.7 L493.6,922.7 L494.1,922.7 L494.6,922.7 L495.1,922.6 L495.5,922.6 L496.0,922.6 L496.5,922.6 L497.0,922.5 L497.5,922.5 L498.0,922.5 L498.5,922.5 L498.9,922.4 L499.4,922.4 L499.9,922.4 L500.4,922.3 L500.9,922.3 L501.4,922.3M527.5,918.9 L528.0,918.8 L528.5,918.6 L529.0,918.5 L529.5,918.4 L529.9,918.3 L530.4,918.2 L530.9,918.1 L531.4,918.0 L531.9,917.9 L532.4,917.8 L532.9,917.7 L533.3,917.6 L533.8,917.5 L534.3,917.4 L534.8,917.3 L535.3,917.2 L535.8,917.1 L536.2,917.0 L536.7,916.9 L537.2,916.8 L537.7,916.7 L538.2,916.6 L538.7,916.5 L539.1,916.4 L539.6,916.3 L540.1,916.2M566.3,914.1 L566.8,914.1 L567.3,914.1 L567.7,914.1 L568.2,914.1 L568.7,914.1 L569.2,914.2 L569.7,914.2 L570.2,914.2 L570.6,914.2 L571.1,914.3 L571.6,914.3 L572.1,914.3 L572.6,914.3 L573.1,914.4 L573.5,914.4 L574.0,914.4 L574.5,914.4 L575.0,914.5 L575.5,914.5 L576.0,914.5 L576.5,914.6 L576.9,914.6 L577.4,914.6 L577.9,914.7 L578.4,914.7 L578.9,914.7" stroke="#d21420" stroke-width="2.0" fill="none"/><path d="M135.00,232.93 C145.20,235.76 154.04,238.49 165.60,241.42 C177.16,244.34 191.44,246.67 204.36,250.47 C217.28,254.27 230.20,256.78 243.12,264.23 C256.04,271.68 268.96,280.33 281.88,295.18 C294.80,310.02 307.72,333.38 320.64,353.29 C333.56,373.20 346.48,399.33 359.40,414.61 C372.32,429.90 385.24,438.40 398.16,444.99 C411.08,451.58 424.00,451.87 436.92,454.16 C449.84,456.45 462.76,457.48 475.68,458.75 C488.60,460.01 501.52,460.85 514.44,461.73 C527.36,462.60 540.28,463.27 553.20,464.02 C566.12,464.76 579.04,465.47 591.96,466.20" stroke="#3aace0" stroke-width="1.50" fill="none"/><path d="M135.00,246.12 C145.20,248.60 154.04,250.80 165.60,253.57 C177.16,256.34 191.44,258.50 204.36,262.74 C217.28,266.98 230.20,270.93 243.12,279.01 C256.04,287.09 268.96,297.31 281.88,311.22 C294.80,325.13 307.72,344.85 320.64,362.46 C333.56,380.07 346.48,402.96 359.40,416.91 C372.32,430.85 385.24,439.83 398.16,446.14 C411.08,452.44 424.00,452.54 436.92,454.73 C449.84,456.93 462.76,458.08 475.68,459.32 C488.60,460.56 501.52,461.32 514.44,462.18 C527.36,463.04 540.28,463.71 553.20,464.48 C566.12,465.24 579.04,466.00 591.96,466.77" stroke="#3aace0" stroke-width="1.50" fill="none"/><path d="M135.00,838.62 C145.20,849.94 154.04,866.66 165.60,872.57 C177.16,878.49 191.44,879.40 204.36,874.10 C217.28,868.80 230.20,856.21 243.12,840.76 C256.04,825.32 268.96,798.55 281.88,781.43 C294.80,764.30 307.72,738.25 320.64,737.99 C333.56,737.74 346.48,759.96 359.40,779.90 C372.32,799.83 385.24,837.96 398.16,857.59 C411.08,877.21 424.00,888.53 436.92,897.65 C449.84,906.78 462.76,908.97 475.68,912.34 C488.60,915.70 501.52,916.41 514.44,917.84 C527.36,919.27 540.28,919.78 553.20,920.90 C566.12,922.02 579.04,923.35 591.96,924.57" stroke="#3aace0" stroke-width="1.50" fill="none"/><path d="M135.00,841.07 C145.20,851.77 154.04,867.58 165.60,873.19 C177.16,878.79 191.44,880.12 204.36,874.71 C217.28,869.31 230.20,854.78 243.12,840.76 C256.04,826.74 268.96,803.86 281.88,790.60 C294.80,777.35 307.72,760.73 320.64,761.24 C333.56,761.75 346.48,777.30 359.40,793.66 C372.32,810.02 385.24,841.99 398.16,859.42 C411.08,876.86 424.00,889.35 436.92,898.27 C449.84,907.19 462.76,909.63 475.68,912.95 C488.60,916.26 501.52,916.77 514.44,918.15 C527.36,919.52 540.28,920.08 553.20,921.21 C566.12,922.33 579.04,923.65 591.96,924.88" stroke="#3aace0" stroke-width="1.50" fill="none"/><path d="M135.00,107.99 C145.20,111.43 154.04,114.68 165.60,118.31 C177.16,121.94 191.44,124.42 204.36,129.77 C217.28,135.12 230.20,138.37 243.12,150.40 C256.04,162.44 268.96,177.15 281.88,201.99 C294.80,226.82 307.72,270.38 320.64,299.42 C333.56,328.45 346.48,357.68 359.40,376.22 C372.32,394.75 385.24,402.39 398.16,410.60 C411.08,418.82 424.00,421.78 436.92,425.50 C449.84,429.23 462.76,430.95 475.68,432.95 C488.60,434.96 501.52,435.25 514.44,437.54 C527.36,439.83 540.28,443.42 553.20,446.71 C566.12,450.00 579.04,453.74 591.96,457.25" stroke="#1b1714" stroke-width="1.40" fill="none"/><path d="M135.00,111.43 C145.20,114.87 154.04,118.21 165.60,121.75 C177.16,125.28 191.44,127.19 204.36,132.64 C217.28,138.08 230.20,141.71 243.12,154.42 C256.04,167.12 268.96,184.12 281.88,208.86 C294.80,233.60 307.72,274.58 320.64,302.86 C333.56,331.13 346.48,360.26 359.40,378.51 C372.32,396.75 385.24,404.30 398.16,412.32 C411.08,420.35 424.00,423.02 436.92,426.65 C449.84,430.28 462.76,432.15 475.68,434.10 C488.60,436.05 501.52,436.14 514.44,438.34 C527.36,440.54 540.28,444.03 553.20,447.28 C566.12,450.53 579.04,454.31 591.96,457.83" stroke="#1b1714" stroke-width="1.40" fill="none"/><path d="M135.00,126.33 C145.20,129.96 154.04,133.59 165.60,137.22 C177.16,140.85 191.44,143.16 204.36,148.11 C217.28,153.06 230.20,156.40 243.12,166.91 C256.04,177.42 268.96,188.12 281.88,211.15 C294.80,234.19 307.72,276.87 320.64,305.15 C333.56,333.42 346.48,362.75 359.40,380.80 C372.32,398.85 385.24,405.73 398.16,413.47 C411.08,421.21 424.00,423.69 436.92,427.22 C449.84,430.76 462.76,432.73 475.68,434.67 C488.60,436.62 501.52,436.72 514.44,438.91 C527.36,441.11 540.28,444.65 553.20,447.86 C566.12,451.07 579.04,454.73 591.96,458.17" stroke="#1b1714" stroke-width="1.40" fill="none"/><path d="M135.00,808.95 C145.20,822.41 154.04,843.62 165.60,849.33 C177.16,855.04 191.44,852.23 204.36,843.21 C217.28,834.19 230.20,820.42 243.12,795.19 C256.04,769.96 268.96,717.04 281.88,691.81 C294.80,666.57 307.72,636.34 320.64,643.79 C333.56,651.23 346.48,704.81 359.40,736.46 C372.32,768.12 385.24,809.16 398.16,833.73 C411.08,858.30 424.00,872.60 436.92,883.89 C449.84,895.18 462.76,898.16 475.68,901.48 C488.60,904.79 501.52,903.90 514.44,903.77 C527.36,903.64 540.28,900.20 553.20,900.71 C566.12,901.22 579.04,904.79 591.96,906.83" stroke="#1b1714" stroke-width="1.40" fill="none"/><path d="M135.00,813.54 C145.20,826.80 154.04,847.44 165.60,853.30 C177.16,859.17 191.44,857.64 204.36,848.72 C217.28,839.79 230.20,824.40 243.12,799.78 C256.04,775.16 268.96,724.69 281.88,700.98 C294.80,677.28 307.72,651.02 320.64,657.55 C333.56,664.07 346.48,710.41 359.40,740.13 C372.32,769.85 385.24,811.66 398.16,835.87 C411.08,860.08 424.00,874.36 436.92,885.42 C449.84,896.48 462.76,899.08 475.68,902.24 C488.60,905.40 501.52,904.54 514.44,904.38 C527.36,904.23 540.28,900.82 553.20,901.33 C566.12,901.83 579.04,905.40 591.96,907.44" stroke="#1b1714" stroke-width="1.40" fill="none"/><path d="M135.00,819.66 C145.20,832.40 154.04,851.93 165.60,857.89 C177.16,863.86 191.44,864.06 204.36,855.45 C217.28,846.83 230.20,830.36 243.12,806.20 C256.04,782.04 268.96,734.93 281.88,710.46 C294.80,685.99 307.72,653.93 320.64,659.38 C333.56,664.84 346.48,713.42 359.40,743.19 C372.32,772.96 385.24,814.10 398.16,838.01 C411.08,861.92 424.00,875.84 436.92,886.64 C449.84,897.45 462.76,899.74 475.68,902.85 C488.60,905.96 501.52,905.40 514.44,905.30 C527.36,905.20 540.28,901.73 553.20,902.24 C566.12,902.75 579.04,906.32 591.96,908.36" stroke="#1b1714" stroke-width="1.40" fill="none"/><path d="M135.00,113.72 C145.20,117.39 154.04,121.10 165.60,124.73 C177.16,128.36 191.44,129.69 204.36,135.50 C217.28,141.31 230.20,146.20 243.12,159.57 C256.04,172.95 268.96,190.33 281.88,215.74 C294.80,241.15 307.72,283.75 320.64,312.02 C333.56,340.30 346.48,367.62 359.40,385.38 C372.32,403.15 385.24,411.18 398.16,418.63 C411.08,426.08 424.00,427.22 436.92,430.09 C449.84,432.95 462.76,434.10 475.68,435.82 C488.60,437.54 501.52,438.11 514.44,440.40 C527.36,442.70 540.28,446.52 553.20,449.57 C566.12,452.63 579.04,455.69 591.96,458.75" stroke="#2a48a8" stroke-width="1.40" fill="none"/><path d="M135.00,116.02 C145.20,119.45 154.04,122.70 165.60,126.33 C177.16,129.96 191.44,131.78 204.36,137.80 C217.28,143.81 230.20,147.35 243.12,162.44 C256.04,177.53 268.96,202.27 281.88,228.35 C294.80,254.43 307.72,292.44 320.64,318.90 C333.56,345.36 346.48,370.20 359.40,387.10 C372.32,404.01 385.24,412.99 398.16,420.35 C411.08,427.70 424.00,428.46 436.92,431.24 C449.84,434.01 462.76,435.29 475.68,436.97 C488.60,438.65 501.52,439.13 514.44,441.32 C527.36,443.52 540.28,447.15 553.20,450.15 C566.12,453.15 579.04,456.26 591.96,459.32" stroke="#2a48a8" stroke-width="1.40" fill="none"/><path d="M135.00,818.13 C145.20,831.08 154.04,852.03 165.60,856.97 C177.16,861.92 191.44,862.17 204.36,847.80 C217.28,833.42 230.20,800.08 243.12,770.72 C256.04,741.36 268.96,690.18 281.88,671.62 C294.80,653.06 307.72,647.00 320.64,659.38 C333.56,671.77 346.48,715.56 359.40,745.94 C372.32,776.33 385.24,818.38 398.16,841.68 C411.08,864.98 424.00,875.58 436.92,885.73 C449.84,895.87 462.76,899.44 475.68,902.55 C488.60,905.66 501.52,904.38 514.44,904.38 C527.36,904.38 540.28,901.89 553.20,902.55 C566.12,903.21 579.04,906.42 591.96,908.36" stroke="#2a48a8" stroke-width="1.40" fill="none"/><path d="M135.00,821.19 C145.20,833.42 154.04,853.05 165.60,857.89 C177.16,862.73 191.44,862.73 204.36,850.25 C217.28,837.76 230.20,811.45 243.12,782.95 C256.04,754.46 268.96,699.40 281.88,679.27 C294.80,659.13 307.72,649.70 320.64,662.14 C333.56,674.58 346.48,723.82 359.40,753.90 C372.32,783.97 385.24,820.42 398.16,842.60 C411.08,864.77 424.00,876.86 436.92,886.95 C449.84,897.04 462.76,900.15 475.68,903.16 C488.60,906.17 501.52,905.00 514.44,905.00 C527.36,905.00 540.28,902.45 553.20,903.16 C566.12,903.87 579.04,907.24 591.96,909.28" stroke="#2a48a8" stroke-width="1.40" fill="none"/><path d="M135.00,824.25 C145.20,835.97 154.04,854.58 165.60,859.42 C177.16,864.26 191.44,865.28 204.36,853.30 C217.28,841.32 230.20,815.84 243.12,787.54 C256.04,759.25 268.96,701.80 281.88,683.55 C294.80,665.30 307.72,665.60 320.64,678.04 C333.56,690.48 346.48,730.50 359.40,758.18 C372.32,785.86 385.24,822.41 398.16,844.13 C411.08,865.84 424.00,878.54 436.92,888.48 C449.84,898.42 462.76,900.92 475.68,903.77 C488.60,906.63 501.52,905.61 514.44,905.61 C527.36,905.61 540.28,903.06 553.20,903.77 C566.12,904.49 579.04,907.85 591.96,909.89" stroke="#2a48a8" stroke-width="1.40" fill="none"/></g>
<g><path d="M165.6,336.1L171.6,346.6L159.6,346.6Z" stroke="#d21420" stroke-width="2.2" fill="none" stroke-linejoin="miter"/><path d="M204.4,340.7L210.4,351.2L198.4,351.2Z" stroke="#d21420" stroke-width="2.2" fill="none" stroke-linejoin="miter"/><path d="M243.1,349.9L249.1,360.4L237.1,360.4Z" stroke="#d21420" stroke-width="2.2" fill="none" stroke-linejoin="miter"/><path d="M281.9,385.6L287.9,396.1L275.9,396.1Z" stroke="#d21420" stroke-width="2.2" fill="none" stroke-linejoin="miter"/><path d="M320.6,424.5L326.6,435.0L314.6,435.0Z" stroke="#d21420" stroke-width="2.2" fill="none" stroke-linejoin="miter"/><path d="M359.4,437.3L365.4,447.8L353.4,447.8Z" stroke="#d21420" stroke-width="2.2" fill="none" stroke-linejoin="miter"/><path d="M398.2,439.9L404.2,450.4L392.2,450.4Z" stroke="#d21420" stroke-width="2.2" fill="none" stroke-linejoin="miter"/><path d="M436.9,441.0L442.9,451.5L430.9,451.5Z" stroke="#d21420" stroke-width="2.2" fill="none" stroke-linejoin="miter"/><path d="M475.7,442.7L481.7,453.2L469.7,453.2Z" stroke="#d21420" stroke-width="2.2" fill="none" stroke-linejoin="miter"/><path d="M514.4,445.5L520.4,456.0L508.4,456.0Z" stroke="#d21420" stroke-width="2.2" fill="none" stroke-linejoin="miter"/><path d="M553.2,448.5L559.2,459.0L547.2,459.0Z" stroke="#d21420" stroke-width="2.2" fill="none" stroke-linejoin="miter"/><path d="M592.0,457.1L598.0,467.6L586.0,467.6Z" stroke="#d21420" stroke-width="2.2" fill="none" stroke-linejoin="miter"/><path d="M165.6,342.2L171.6,352.7L159.6,352.7Z" stroke="#d21420" stroke-width="2.2" fill="none" stroke-linejoin="miter"/><path d="M204.4,346.7L210.4,357.2L198.4,357.2Z" stroke="#d21420" stroke-width="2.2" fill="none" stroke-linejoin="miter"/><path d="M243.1,354.5L249.1,365.0L237.1,365.0Z" stroke="#d21420" stroke-width="2.2" fill="none" stroke-linejoin="miter"/><path d="M281.9,387.7L287.9,398.2L275.9,398.2Z" stroke="#d21420" stroke-width="2.2" fill="none" stroke-linejoin="miter"/><path d="M320.6,424.8L326.6,435.3L314.6,435.3Z" stroke="#d21420" stroke-width="2.2" fill="none" stroke-linejoin="miter"/><path d="M359.4,437.7L365.4,448.2L353.4,448.2Z" stroke="#d21420" stroke-width="2.2" fill="none" stroke-linejoin="miter"/><path d="M398.2,440.2L404.2,450.7L392.2,450.7Z" stroke="#d21420" stroke-width="2.2" fill="none" stroke-linejoin="miter"/><path d="M436.9,441.4L442.9,451.9L430.9,451.9Z" stroke="#d21420" stroke-width="2.2" fill="none" stroke-linejoin="miter"/><path d="M475.7,443.1L481.7,453.6L469.7,453.6Z" stroke="#d21420" stroke-width="2.2" fill="none" stroke-linejoin="miter"/><path d="M514.4,445.8L520.4,456.3L508.4,456.3Z" stroke="#d21420" stroke-width="2.2" fill="none" stroke-linejoin="miter"/><path d="M553.2,448.8L559.2,459.3L547.2,459.3Z" stroke="#d21420" stroke-width="2.2" fill="none" stroke-linejoin="miter"/><path d="M592.0,457.3L598.0,467.8L586.0,467.8Z" stroke="#d21420" stroke-width="2.2" fill="none" stroke-linejoin="miter"/><path d="M165.6,352.6L171.6,363.1L159.6,363.1Z" stroke="#d21420" stroke-width="2.2" fill="none" stroke-linejoin="miter"/><path d="M204.4,355.6L210.4,366.1L198.4,366.1Z" stroke="#d21420" stroke-width="2.2" fill="none" stroke-linejoin="miter"/><path d="M243.1,361.7L249.1,372.2L237.1,372.2Z" stroke="#d21420" stroke-width="2.2" fill="none" stroke-linejoin="miter"/><path d="M281.9,390.0L287.9,400.5L275.9,400.5Z" stroke="#d21420" stroke-width="2.2" fill="none" stroke-linejoin="miter"/><path d="M320.6,426.0L326.6,436.5L314.6,436.5Z" stroke="#d21420" stroke-width="2.2" fill="none" stroke-linejoin="miter"/><path d="M359.4,440.1L365.4,450.6L353.4,450.6Z" stroke="#d21420" stroke-width="2.2" fill="none" stroke-linejoin="miter"/><path d="M398.2,443.9L404.2,454.4L392.2,454.4Z" stroke="#d21420" stroke-width="2.2" fill="none" stroke-linejoin="miter"/><path d="M436.9,444.8L442.9,455.3L430.9,455.3Z" stroke="#d21420" stroke-width="2.2" fill="none" stroke-linejoin="miter"/><path d="M475.7,446.6L481.7,457.1L469.7,457.1Z" stroke="#d21420" stroke-width="2.2" fill="none" stroke-linejoin="miter"/><path d="M514.4,449.4L520.4,459.9L508.4,459.9Z" stroke="#d21420" stroke-width="2.2" fill="none" stroke-linejoin="miter"/><path d="M553.2,452.1L559.2,462.6L547.2,462.6Z" stroke="#d21420" stroke-width="2.2" fill="none" stroke-linejoin="miter"/><path d="M592.0,458.5L598.0,469.0L586.0,469.0Z" stroke="#d21420" stroke-width="2.2" fill="none" stroke-linejoin="miter"/><path d="M165.6,910.0L171.6,920.5L159.6,920.5Z" stroke="#d21420" stroke-width="2.2" fill="none" stroke-linejoin="miter"/><path d="M204.4,899.3L210.4,909.8L198.4,909.8Z" stroke="#d21420" stroke-width="2.2" fill="none" stroke-linejoin="miter"/><path d="M243.1,855.9L249.1,866.4L237.1,866.4Z" stroke="#d21420" stroke-width="2.2" fill="none" stroke-linejoin="miter"/><path d="M281.9,808.1L287.9,818.6L275.9,818.6Z" stroke="#d21420" stroke-width="2.2" fill="none" stroke-linejoin="miter"/><path d="M320.6,846.7L326.6,857.2L314.6,857.2Z" stroke="#d21420" stroke-width="2.2" fill="none" stroke-linejoin="miter"/><path d="M359.4,891.3L365.4,901.8L353.4,901.8Z" stroke="#d21420" stroke-width="2.2" fill="none" stroke-linejoin="miter"/><path d="M398.2,910.0L404.2,920.5L392.2,920.5Z" stroke="#d21420" stroke-width="2.2" fill="none" stroke-linejoin="miter"/><path d="M436.9,915.8L442.9,926.3L430.9,926.3Z" stroke="#d21420" stroke-width="2.2" fill="none" stroke-linejoin="miter"/><path d="M475.7,917.3L481.7,927.8L469.7,927.8Z" stroke="#d21420" stroke-width="2.2" fill="none" stroke-linejoin="miter"/><path d="M514.4,912.8L520.4,923.3L508.4,923.3Z" stroke="#d21420" stroke-width="2.2" fill="none" stroke-linejoin="miter"/><path d="M553.2,906.6L559.2,917.1L547.2,917.1Z" stroke="#d21420" stroke-width="2.2" fill="none" stroke-linejoin="miter"/><path d="M592.0,909.1L598.0,919.6L586.0,919.6Z" stroke="#d21420" stroke-width="2.2" fill="none" stroke-linejoin="miter"/><path d="M165.6,910.0L171.6,920.5L159.6,920.5Z" stroke="#d21420" stroke-width="2.2" fill="none" stroke-linejoin="miter"/><path d="M204.4,899.3L210.4,909.8L198.4,909.8Z" stroke="#d21420" stroke-width="2.2" fill="none" stroke-linejoin="miter"/><path d="M243.1,862.3L249.1,872.8L237.1,872.8Z" stroke="#d21420" stroke-width="2.2" fill="none" stroke-linejoin="miter"/><path d="M281.9,812.7L287.9,823.2L275.9,823.2Z" stroke="#d21420" stroke-width="2.2" fill="none" stroke-linejoin="miter"/><path d="M320.6,848.2L326.6,858.7L314.6,858.7Z" stroke="#d21420" stroke-width="2.2" fill="none" stroke-linejoin="miter"/><path d="M359.4,891.3L365.4,901.8L353.4,901.8Z" stroke="#d21420" stroke-width="2.2" fill="none" stroke-linejoin="miter"/><path d="M398.2,910.3L404.2,920.8L392.2,920.8Z" stroke="#d21420" stroke-width="2.2" fill="none" stroke-linejoin="miter"/><path d="M436.9,915.8L442.9,926.3L430.9,926.3Z" stroke="#d21420" stroke-width="2.2" fill="none" stroke-linejoin="miter"/><path d="M475.7,917.3L481.7,927.8L469.7,927.8Z" stroke="#d21420" stroke-width="2.2" fill="none" stroke-linejoin="miter"/><path d="M514.4,914.9L520.4,925.4L508.4,925.4Z" stroke="#d21420" stroke-width="2.2" fill="none" stroke-linejoin="miter"/><path d="M553.2,908.8L559.2,919.3L547.2,919.3Z" stroke="#d21420" stroke-width="2.2" fill="none" stroke-linejoin="miter"/><path d="M592.0,909.7L598.0,920.2L586.0,920.2Z" stroke="#d21420" stroke-width="2.2" fill="none" stroke-linejoin="miter"/><path d="M165.6,910.0L171.6,920.5L159.6,920.5Z" stroke="#d21420" stroke-width="2.2" fill="none" stroke-linejoin="miter"/><path d="M204.4,900.2L210.4,910.7L198.4,910.7Z" stroke="#d21420" stroke-width="2.2" fill="none" stroke-linejoin="miter"/><path d="M243.1,866.9L249.1,877.4L237.1,877.4Z" stroke="#d21420" stroke-width="2.2" fill="none" stroke-linejoin="miter"/><path d="M281.9,823.4L287.9,833.9L275.9,833.9Z" stroke="#d21420" stroke-width="2.2" fill="none" stroke-linejoin="miter"/><path d="M320.6,849.1L326.6,859.6L314.6,859.6Z" stroke="#d21420" stroke-width="2.2" fill="none" stroke-linejoin="miter"/><path d="M359.4,892.0L365.4,902.5L353.4,902.5Z" stroke="#d21420" stroke-width="2.2" fill="none" stroke-linejoin="miter"/><path d="M398.2,910.3L404.2,920.8L392.2,920.8Z" stroke="#d21420" stroke-width="2.2" fill="none" stroke-linejoin="miter"/><path d="M436.9,916.4L442.9,926.9L430.9,926.9Z" stroke="#d21420" stroke-width="2.2" fill="none" stroke-linejoin="miter"/><path d="M475.7,917.6L481.7,928.1L469.7,928.1Z" stroke="#d21420" stroke-width="2.2" fill="none" stroke-linejoin="miter"/><path d="M514.4,918.6L520.4,929.1L508.4,929.1Z" stroke="#d21420" stroke-width="2.2" fill="none" stroke-linejoin="miter"/><path d="M553.2,910.3L559.2,920.8L547.2,920.8Z" stroke="#d21420" stroke-width="2.2" fill="none" stroke-linejoin="miter"/><path d="M592.0,910.3L598.0,920.8L586.0,920.8Z" stroke="#d21420" stroke-width="2.2" fill="none" stroke-linejoin="miter"/><circle cx="165.6" cy="241.4" r="5.2" stroke="#3aace0" stroke-width="2.0" fill="none"/><circle cx="204.4" cy="250.5" r="5.2" stroke="#3aace0" stroke-width="2.0" fill="none"/><circle cx="243.1" cy="264.2" r="5.2" stroke="#3aace0" stroke-width="2.0" fill="none"/><circle cx="281.9" cy="295.2" r="5.2" stroke="#3aace0" stroke-width="2.0" fill="none"/><circle cx="320.6" cy="353.3" r="5.2" stroke="#3aace0" stroke-width="2.0" fill="none"/><circle cx="359.4" cy="414.6" r="5.2" stroke="#3aace0" stroke-width="2.0" fill="none"/><circle cx="398.2" cy="445.0" r="5.2" stroke="#3aace0" stroke-width="2.0" fill="none"/><circle cx="436.9" cy="454.2" r="5.2" stroke="#3aace0" stroke-width="2.0" fill="none"/><circle cx="475.7" cy="458.7" r="5.2" stroke="#3aace0" stroke-width="2.0" fill="none"/><circle cx="514.4" cy="461.7" r="5.2" stroke="#3aace0" stroke-width="2.0" fill="none"/><circle cx="553.2" cy="464.0" r="5.2" stroke="#3aace0" stroke-width="2.0" fill="none"/><circle cx="592.0" cy="466.2" r="5.2" stroke="#3aace0" stroke-width="2.0" fill="none"/><circle cx="165.6" cy="253.6" r="5.2" stroke="#3aace0" stroke-width="2.0" fill="none"/><circle cx="204.4" cy="262.7" r="5.2" stroke="#3aace0" stroke-width="2.0" fill="none"/><circle cx="243.1" cy="279.0" r="5.2" stroke="#3aace0" stroke-width="2.0" fill="none"/><circle cx="281.9" cy="311.2" r="5.2" stroke="#3aace0" stroke-width="2.0" fill="none"/><circle cx="320.6" cy="362.5" r="5.2" stroke="#3aace0" stroke-width="2.0" fill="none"/><circle cx="359.4" cy="416.9" r="5.2" stroke="#3aace0" stroke-width="2.0" fill="none"/><circle cx="398.2" cy="446.1" r="5.2" stroke="#3aace0" stroke-width="2.0" fill="none"/><circle cx="436.9" cy="454.7" r="5.2" stroke="#3aace0" stroke-width="2.0" fill="none"/><circle cx="475.7" cy="459.3" r="5.2" stroke="#3aace0" stroke-width="2.0" fill="none"/><circle cx="514.4" cy="462.2" r="5.2" stroke="#3aace0" stroke-width="2.0" fill="none"/><circle cx="553.2" cy="464.5" r="5.2" stroke="#3aace0" stroke-width="2.0" fill="none"/><circle cx="592.0" cy="466.8" r="5.2" stroke="#3aace0" stroke-width="2.0" fill="none"/><circle cx="165.6" cy="872.6" r="5.2" stroke="#3aace0" stroke-width="2.0" fill="none"/><circle cx="204.4" cy="874.1" r="5.2" stroke="#3aace0" stroke-width="2.0" fill="none"/><circle cx="243.1" cy="840.8" r="5.2" stroke="#3aace0" stroke-width="2.0" fill="none"/><circle cx="281.9" cy="781.4" r="5.2" stroke="#3aace0" stroke-width="2.0" fill="none"/><circle cx="320.6" cy="738.0" r="5.2" stroke="#3aace0" stroke-width="2.0" fill="none"/><circle cx="359.4" cy="779.9" r="5.2" stroke="#3aace0" stroke-width="2.0" fill="none"/><circle cx="398.2" cy="857.6" r="5.2" stroke="#3aace0" stroke-width="2.0" fill="none"/><circle cx="436.9" cy="897.7" r="5.2" stroke="#3aace0" stroke-width="2.0" fill="none"/><circle cx="475.7" cy="912.3" r="5.2" stroke="#3aace0" stroke-width="2.0" fill="none"/><circle cx="514.4" cy="917.8" r="5.2" stroke="#3aace0" stroke-width="2.0" fill="none"/><circle cx="553.2" cy="920.9" r="5.2" stroke="#3aace0" stroke-width="2.0" fill="none"/><circle cx="592.0" cy="924.6" r="5.2" stroke="#3aace0" stroke-width="2.0" fill="none"/><circle cx="165.6" cy="873.2" r="5.2" stroke="#3aace0" stroke-width="2.0" fill="none"/><circle cx="204.4" cy="874.7" r="5.2" stroke="#3aace0" stroke-width="2.0" fill="none"/><circle cx="243.1" cy="840.8" r="5.2" stroke="#3aace0" stroke-width="2.0" fill="none"/><circle cx="281.9" cy="790.6" r="5.2" stroke="#3aace0" stroke-width="2.0" fill="none"/><circle cx="320.6" cy="761.2" r="5.2" stroke="#3aace0" stroke-width="2.0" fill="none"/><circle cx="359.4" cy="793.7" r="5.2" stroke="#3aace0" stroke-width="2.0" fill="none"/><circle cx="398.2" cy="859.4" r="5.2" stroke="#3aace0" stroke-width="2.0" fill="none"/><circle cx="436.9" cy="898.3" r="5.2" stroke="#3aace0" stroke-width="2.0" fill="none"/><circle cx="475.7" cy="912.9" r="5.2" stroke="#3aace0" stroke-width="2.0" fill="none"/><circle cx="514.4" cy="918.1" r="5.2" stroke="#3aace0" stroke-width="2.0" fill="none"/><circle cx="553.2" cy="921.2" r="5.2" stroke="#3aace0" stroke-width="2.0" fill="none"/><circle cx="592.0" cy="924.9" r="5.2" stroke="#3aace0" stroke-width="2.0" fill="none"/><path d="M159.6,118.3h12.0M165.6,112.3v12.0" stroke="#1b1714" stroke-width="3.8" fill="none"/><path d="M198.4,129.8h12.0M204.4,123.8v12.0" stroke="#1b1714" stroke-width="3.8" fill="none"/><path d="M237.1,150.4h12.0M243.1,144.4v12.0" stroke="#1b1714" stroke-width="3.8" fill="none"/><path d="M275.9,202.0h12.0M281.9,196.0v12.0" stroke="#1b1714" stroke-width="3.8" fill="none"/><path d="M314.6,299.4h12.0M320.6,293.4v12.0" stroke="#1b1714" stroke-width="3.8" fill="none"/><path d="M353.4,376.2h12.0M359.4,370.2v12.0" stroke="#1b1714" stroke-width="3.8" fill="none"/><path d="M392.2,410.6h12.0M398.2,404.6v12.0" stroke="#1b1714" stroke-width="3.8" fill="none"/><path d="M430.9,425.5h12.0M436.9,419.5v12.0" stroke="#1b1714" stroke-width="3.8" fill="none"/><path d="M469.7,433.0h12.0M475.7,427.0v12.0" stroke="#1b1714" stroke-width="3.8" fill="none"/><path d="M508.4,437.5h12.0M514.4,431.5v12.0" stroke="#1b1714" stroke-width="3.8" fill="none"/><path d="M547.2,446.7h12.0M553.2,440.7v12.0" stroke="#1b1714" stroke-width="3.8" fill="none"/><path d="M586.0,457.3h12.0M592.0,451.3v12.0" stroke="#1b1714" stroke-width="3.8" fill="none"/><path d="M159.6,121.7h12.0M165.6,115.7v12.0" stroke="#1b1714" stroke-width="3.8" fill="none"/><path d="M198.4,132.6h12.0M204.4,126.6v12.0" stroke="#1b1714" stroke-width="3.8" fill="none"/><path d="M237.1,154.4h12.0M243.1,148.4v12.0" stroke="#1b1714" stroke-width="3.8" fill="none"/><path d="M275.9,208.9h12.0M281.9,202.9v12.0" stroke="#1b1714" stroke-width="3.8" fill="none"/><path d="M314.6,302.9h12.0M320.6,296.9v12.0" stroke="#1b1714" stroke-width="3.8" fill="none"/><path d="M353.4,378.5h12.0M359.4,372.5v12.0" stroke="#1b1714" stroke-width="3.8" fill="none"/><path d="M392.2,412.3h12.0M398.2,406.3v12.0" stroke="#1b1714" stroke-width="3.8" fill="none"/><path d="M430.9,426.6h12.0M436.9,420.6v12.0" stroke="#1b1714" stroke-width="3.8" fill="none"/><path d="M469.7,434.1h12.0M475.7,428.1v12.0" stroke="#1b1714" stroke-width="3.8" fill="none"/><path d="M508.4,438.3h12.0M514.4,432.3v12.0" stroke="#1b1714" stroke-width="3.8" fill="none"/><path d="M547.2,447.3h12.0M553.2,441.3v12.0" stroke="#1b1714" stroke-width="3.8" fill="none"/><path d="M586.0,457.8h12.0M592.0,451.8v12.0" stroke="#1b1714" stroke-width="3.8" fill="none"/><path d="M159.6,137.2h12.0M165.6,131.2v12.0" stroke="#1b1714" stroke-width="3.8" fill="none"/><path d="M198.4,148.1h12.0M204.4,142.1v12.0" stroke="#1b1714" stroke-width="3.8" fill="none"/><path d="M237.1,166.9h12.0M243.1,160.9v12.0" stroke="#1b1714" stroke-width="3.8" fill="none"/><path d="M275.9,211.2h12.0M281.9,205.2v12.0" stroke="#1b1714" stroke-width="3.8" fill="none"/><path d="M314.6,305.1h12.0M320.6,299.1v12.0" stroke="#1b1714" stroke-width="3.8" fill="none"/><path d="M353.4,380.8h12.0M359.4,374.8v12.0" stroke="#1b1714" stroke-width="3.8" fill="none"/><path d="M392.2,413.5h12.0M398.2,407.5v12.0" stroke="#1b1714" stroke-width="3.8" fill="none"/><path d="M430.9,427.2h12.0M436.9,421.2v12.0" stroke="#1b1714" stroke-width="3.8" fill="none"/><path d="M469.7,434.7h12.0M475.7,428.7v12.0" stroke="#1b1714" stroke-width="3.8" fill="none"/><path d="M508.4,438.9h12.0M514.4,432.9v12.0" stroke="#1b1714" stroke-width="3.8" fill="none"/><path d="M547.2,447.9h12.0M553.2,441.9v12.0" stroke="#1b1714" stroke-width="3.8" fill="none"/><path d="M586.0,458.2h12.0M592.0,452.2v12.0" stroke="#1b1714" stroke-width="3.8" fill="none"/><path d="M159.6,849.3h12.0M165.6,843.3v12.0" stroke="#1b1714" stroke-width="3.8" fill="none"/><path d="M198.4,843.2h12.0M204.4,837.2v12.0" stroke="#1b1714" stroke-width="3.8" fill="none"/><path d="M237.1,795.2h12.0M243.1,789.2v12.0" stroke="#1b1714" stroke-width="3.8" fill="none"/><path d="M275.9,691.8h12.0M281.9,685.8v12.0" stroke="#1b1714" stroke-width="3.8" fill="none"/><path d="M314.6,643.8h12.0M320.6,637.8v12.0" stroke="#1b1714" stroke-width="3.8" fill="none"/><path d="M353.4,736.5h12.0M359.4,730.5v12.0" stroke="#1b1714" stroke-width="3.8" fill="none"/><path d="M392.2,833.7h12.0M398.2,827.7v12.0" stroke="#1b1714" stroke-width="3.8" fill="none"/><path d="M430.9,883.9h12.0M436.9,877.9v12.0" stroke="#1b1714" stroke-width="3.8" fill="none"/><path d="M469.7,901.5h12.0M475.7,895.5v12.0" stroke="#1b1714" stroke-width="3.8" fill="none"/><path d="M508.4,903.8h12.0M514.4,897.8v12.0" stroke="#1b1714" stroke-width="3.8" fill="none"/><path d="M547.2,900.7h12.0M553.2,894.7v12.0" stroke="#1b1714" stroke-width="3.8" fill="none"/><path d="M586.0,906.8h12.0M592.0,900.8v12.0" stroke="#1b1714" stroke-width="3.8" fill="none"/><path d="M159.6,853.3h12.0M165.6,847.3v12.0" stroke="#1b1714" stroke-width="3.8" fill="none"/><path d="M198.4,848.7h12.0M204.4,842.7v12.0" stroke="#1b1714" stroke-width="3.8" fill="none"/><path d="M237.1,799.8h12.0M243.1,793.8v12.0" stroke="#1b1714" stroke-width="3.8" fill="none"/><path d="M275.9,701.0h12.0M281.9,695.0v12.0" stroke="#1b1714" stroke-width="3.8" fill="none"/><path d="M314.6,657.5h12.0M320.6,651.5v12.0" stroke="#1b1714" stroke-width="3.8" fill="none"/><path d="M353.4,740.1h12.0M359.4,734.1v12.0" stroke="#1b1714" stroke-width="3.8" fill="none"/><path d="M392.2,835.9h12.0M398.2,829.9v12.0" stroke="#1b1714" stroke-width="3.8" fill="none"/><path d="M430.9,885.4h12.0M436.9,879.4v12.0" stroke="#1b1714" stroke-width="3.8" fill="none"/><path d="M469.7,902.2h12.0M475.7,896.2v12.0" stroke="#1b1714" stroke-width="3.8" fill="none"/><path d="M508.4,904.4h12.0M514.4,898.4v12.0" stroke="#1b1714" stroke-width="3.8" fill="none"/><path d="M547.2,901.3h12.0M553.2,895.3v12.0" stroke="#1b1714" stroke-width="3.8" fill="none"/><path d="M586.0,907.4h12.0M592.0,901.4v12.0" stroke="#1b1714" stroke-width="3.8" fill="none"/><path d="M159.6,857.9h12.0M165.6,851.9v12.0" stroke="#1b1714" stroke-width="3.8" fill="none"/><path d="M198.4,855.4h12.0M204.4,849.4v12.0" stroke="#1b1714" stroke-width="3.8" fill="none"/><path d="M237.1,806.2h12.0M243.1,800.2v12.0" stroke="#1b1714" stroke-width="3.8" fill="none"/><path d="M275.9,710.5h12.0M281.9,704.5v12.0" stroke="#1b1714" stroke-width="3.8" fill="none"/><path d="M314.6,659.4h12.0M320.6,653.4v12.0" stroke="#1b1714" stroke-width="3.8" fill="none"/><path d="M353.4,743.2h12.0M359.4,737.2v12.0" stroke="#1b1714" stroke-width="3.8" fill="none"/><path d="M392.2,838.0h12.0M398.2,832.0v12.0" stroke="#1b1714" stroke-width="3.8" fill="none"/><path d="M430.9,886.6h12.0M436.9,880.6v12.0" stroke="#1b1714" stroke-width="3.8" fill="none"/><path d="M469.7,902.9h12.0M475.7,896.9v12.0" stroke="#1b1714" stroke-width="3.8" fill="none"/><path d="M508.4,905.3h12.0M514.4,899.3v12.0" stroke="#1b1714" stroke-width="3.8" fill="none"/><path d="M547.2,902.2h12.0M553.2,896.2v12.0" stroke="#1b1714" stroke-width="3.8" fill="none"/><path d="M586.0,908.4h12.0M592.0,902.4v12.0" stroke="#1b1714" stroke-width="3.8" fill="none"/><path d="M165.6,118.9L171.4,124.7L165.6,130.5L159.8,124.7Z" stroke="#2b4cae" stroke-width="1.9" fill="none"/><path d="M204.4,129.7L210.2,135.5L204.4,141.3L198.6,135.5Z" stroke="#2b4cae" stroke-width="1.9" fill="none"/><path d="M243.1,153.8L248.9,159.6L243.1,165.4L237.3,159.6Z" stroke="#2b4cae" stroke-width="1.9" fill="none"/><path d="M281.9,209.9L287.7,215.7L281.9,221.5L276.1,215.7Z" stroke="#2b4cae" stroke-width="1.9" fill="none"/><path d="M320.6,306.2L326.4,312.0L320.6,317.8L314.8,312.0Z" stroke="#2b4cae" stroke-width="1.9" fill="none"/><path d="M359.4,379.6L365.2,385.4L359.4,391.2L353.6,385.4Z" stroke="#2b4cae" stroke-width="1.9" fill="none"/><path d="M398.2,412.8L404.0,418.6L398.2,424.4L392.4,418.6Z" stroke="#2b4cae" stroke-width="1.9" fill="none"/><path d="M436.9,424.3L442.7,430.1L436.9,435.9L431.1,430.1Z" stroke="#2b4cae" stroke-width="1.9" fill="none"/><path d="M475.7,430.0L481.5,435.8L475.7,441.6L469.9,435.8Z" stroke="#2b4cae" stroke-width="1.9" fill="none"/><path d="M514.4,434.6L520.2,440.4L514.4,446.2L508.6,440.4Z" stroke="#2b4cae" stroke-width="1.9" fill="none"/><path d="M553.2,443.8L559.0,449.6L553.2,455.4L547.4,449.6Z" stroke="#2b4cae" stroke-width="1.9" fill="none"/><path d="M592.0,452.9L597.8,458.7L592.0,464.5L586.2,458.7Z" stroke="#2b4cae" stroke-width="1.9" fill="none"/><path d="M165.6,120.5L171.4,126.3L165.6,132.1L159.8,126.3Z" stroke="#2b4cae" stroke-width="1.9" fill="none"/><path d="M204.4,132.0L210.2,137.8L204.4,143.6L198.6,137.8Z" stroke="#2b4cae" stroke-width="1.9" fill="none"/><path d="M243.1,156.6L248.9,162.4L243.1,168.2L237.3,162.4Z" stroke="#2b4cae" stroke-width="1.9" fill="none"/><path d="M281.9,222.5L287.7,228.3L281.9,234.1L276.1,228.3Z" stroke="#2b4cae" stroke-width="1.9" fill="none"/><path d="M320.6,313.1L326.4,318.9L320.6,324.7L314.8,318.9Z" stroke="#2b4cae" stroke-width="1.9" fill="none"/><path d="M359.4,381.3L365.2,387.1L359.4,392.9L353.6,387.1Z" stroke="#2b4cae" stroke-width="1.9" fill="none"/><path d="M398.2,414.5L404.0,420.3L398.2,426.1L392.4,420.3Z" stroke="#2b4cae" stroke-width="1.9" fill="none"/><path d="M436.9,425.4L442.7,431.2L436.9,437.0L431.1,431.2Z" stroke="#2b4cae" stroke-width="1.9" fill="none"/><path d="M475.7,431.2L481.5,437.0L475.7,442.8L469.9,437.0Z" stroke="#2b4cae" stroke-width="1.9" fill="none"/><path d="M514.4,435.5L520.2,441.3L514.4,447.1L508.6,441.3Z" stroke="#2b4cae" stroke-width="1.9" fill="none"/><path d="M553.2,444.3L559.0,450.1L553.2,455.9L547.4,450.1Z" stroke="#2b4cae" stroke-width="1.9" fill="none"/><path d="M592.0,453.5L597.8,459.3L592.0,465.1L586.2,459.3Z" stroke="#2b4cae" stroke-width="1.9" fill="none"/><path d="M165.6,851.2L171.4,857.0L165.6,862.8L159.8,857.0Z" stroke="#2b4cae" stroke-width="1.9" fill="none"/><path d="M204.4,842.0L210.2,847.8L204.4,853.6L198.6,847.8Z" stroke="#2b4cae" stroke-width="1.9" fill="none"/><path d="M243.1,764.9L248.9,770.7L243.1,776.5L237.3,770.7Z" stroke="#2b4cae" stroke-width="1.9" fill="none"/><path d="M281.9,665.8L287.7,671.6L281.9,677.4L276.1,671.6Z" stroke="#2b4cae" stroke-width="1.9" fill="none"/><path d="M320.6,653.6L326.4,659.4L320.6,665.2L314.8,659.4Z" stroke="#2b4cae" stroke-width="1.9" fill="none"/><path d="M359.4,740.1L365.2,745.9L359.4,751.7L353.6,745.9Z" stroke="#2b4cae" stroke-width="1.9" fill="none"/><path d="M398.2,835.9L404.0,841.7L398.2,847.5L392.4,841.7Z" stroke="#2b4cae" stroke-width="1.9" fill="none"/><path d="M436.9,879.9L442.7,885.7L436.9,891.5L431.1,885.7Z" stroke="#2b4cae" stroke-width="1.9" fill="none"/><path d="M475.7,896.7L481.5,902.5L475.7,908.3L469.9,902.5Z" stroke="#2b4cae" stroke-width="1.9" fill="none"/><path d="M514.4,898.6L520.2,904.4L514.4,910.2L508.6,904.4Z" stroke="#2b4cae" stroke-width="1.9" fill="none"/><path d="M553.2,896.7L559.0,902.5L553.2,908.3L547.4,902.5Z" stroke="#2b4cae" stroke-width="1.9" fill="none"/><path d="M592.0,902.6L597.8,908.4L592.0,914.2L586.2,908.4Z" stroke="#2b4cae" stroke-width="1.9" fill="none"/><path d="M165.6,852.1L171.4,857.9L165.6,863.7L159.8,857.9Z" stroke="#2b4cae" stroke-width="1.9" fill="none"/><path d="M204.4,844.4L210.2,850.2L204.4,856.0L198.6,850.2Z" stroke="#2b4cae" stroke-width="1.9" fill="none"/><path d="M243.1,777.2L248.9,783.0L243.1,788.8L237.3,783.0Z" stroke="#2b4cae" stroke-width="1.9" fill="none"/><path d="M281.9,673.5L287.7,679.3L281.9,685.1L276.1,679.3Z" stroke="#2b4cae" stroke-width="1.9" fill="none"/><path d="M320.6,656.3L326.4,662.1L320.6,667.9L314.8,662.1Z" stroke="#2b4cae" stroke-width="1.9" fill="none"/><path d="M359.4,748.1L365.2,753.9L359.4,759.7L353.6,753.9Z" stroke="#2b4cae" stroke-width="1.9" fill="none"/><path d="M398.2,836.8L404.0,842.6L398.2,848.4L392.4,842.6Z" stroke="#2b4cae" stroke-width="1.9" fill="none"/><path d="M436.9,881.1L442.7,886.9L436.9,892.7L431.1,886.9Z" stroke="#2b4cae" stroke-width="1.9" fill="none"/><path d="M475.7,897.4L481.5,903.2L475.7,909.0L469.9,903.2Z" stroke="#2b4cae" stroke-width="1.9" fill="none"/><path d="M514.4,899.2L520.2,905.0L514.4,910.8L508.6,905.0Z" stroke="#2b4cae" stroke-width="1.9" fill="none"/><path d="M553.2,897.4L559.0,903.2L553.2,909.0L547.4,903.2Z" stroke="#2b4cae" stroke-width="1.9" fill="none"/><path d="M592.0,903.5L597.8,909.3L592.0,915.1L586.2,909.3Z" stroke="#2b4cae" stroke-width="1.9" fill="none"/><path d="M165.6,853.6L171.4,859.4L165.6,865.2L159.8,859.4Z" stroke="#2b4cae" stroke-width="1.9" fill="none"/><path d="M204.4,847.5L210.2,853.3L204.4,859.1L198.6,853.3Z" stroke="#2b4cae" stroke-width="1.9" fill="none"/><path d="M243.1,781.7L248.9,787.5L243.1,793.3L237.3,787.5Z" stroke="#2b4cae" stroke-width="1.9" fill="none"/><path d="M281.9,677.7L287.7,683.5L281.9,689.3L276.1,683.5Z" stroke="#2b4cae" stroke-width="1.9" fill="none"/><path d="M320.6,672.2L326.4,678.0L320.6,683.8L314.8,678.0Z" stroke="#2b4cae" stroke-width="1.9" fill="none"/><path d="M359.4,752.4L365.2,758.2L359.4,764.0L353.6,758.2Z" stroke="#2b4cae" stroke-width="1.9" fill="none"/><path d="M398.2,838.3L404.0,844.1L398.2,849.9L392.4,844.1Z" stroke="#2b4cae" stroke-width="1.9" fill="none"/><path d="M436.9,882.7L442.7,888.5L436.9,894.3L431.1,888.5Z" stroke="#2b4cae" stroke-width="1.9" fill="none"/><path d="M475.7,898.0L481.5,903.8L475.7,909.6L469.9,903.8Z" stroke="#2b4cae" stroke-width="1.9" fill="none"/><path d="M514.4,899.8L520.2,905.6L514.4,911.4L508.6,905.6Z" stroke="#2b4cae" stroke-width="1.9" fill="none"/><path d="M553.2,898.0L559.0,903.8L553.2,909.6L547.4,903.8Z" stroke="#2b4cae" stroke-width="1.9" fill="none"/><path d="M592.0,904.1L597.8,909.9L592.0,915.7L586.2,909.9Z" stroke="#2b4cae" stroke-width="1.9" fill="none"/></g>
<line x1="268" y1="47.8" x2="331.5" y2="47.8" stroke="#3a3636" stroke-width="1.5"/><path d="M294.0,47.8h11.0M299.5,42.3v11.0" stroke="#1b1714" stroke-width="3.6" fill="none"/><line x1="268" y1="85.8" x2="331.5" y2="85.8" stroke="#2a48a8" stroke-width="1.8"/><line x1="299.5" y1="79.8" x2="299.5" y2="91.8" stroke="#2a48a8" stroke-width="1.2"/><path d="M268,122.9h12M289,122.9h5M314,122.9h12" stroke="#d21420" stroke-width="1.6"/><path d="M299.5,118.7L304.5,127.4L294.5,127.4Z" stroke="#d21420" stroke-width="1.7" fill="none" stroke-linejoin="miter"/><line x1="268" y1="160.7" x2="331.5" y2="160.7" stroke="#3aace0" stroke-width="1.5"/><circle cx="299.5" cy="160.7" r="5.6" stroke="#3aace0" stroke-width="1.8" fill="none"/>
<text x="343.6" y="57.6" font-family="'Liberation Sans', Arial, sans-serif" font-size="27.0" font-weight="bold" text-anchor="start" fill="#231f1c" textLength="235" lengthAdjust="spacingAndGlyphs">(+/-) reassembled</text><text x="343.6" y="94.4" font-family="'Liberation Sans', Arial, sans-serif" font-size="27.0" font-weight="bold" text-anchor="start" fill="#231f1c" textLength="185.5" lengthAdjust="spacingAndGlyphs">(+/+)/2 + (-/-)/2</text><text x="343.6" y="132.2" font-family="'Liberation Sans', Arial, sans-serif" font-size="27.0" font-weight="bold" text-anchor="start" fill="#231f1c" textLength="82.5" lengthAdjust="spacingAndGlyphs">(+/+)/2</text><text x="343.6" y="170.0" font-family="'Liberation Sans', Arial, sans-serif" font-size="27.0" font-weight="bold" text-anchor="start" fill="#231f1c" textLength="67.7" lengthAdjust="spacingAndGlyphs">(-/-)/2</text><text x="123.5" y="484.0" font-family="'Liberation Sans', Arial, sans-serif" font-size="33.0" font-weight="bold" text-anchor="end" fill="#231f1c" textLength="17.3" lengthAdjust="spacingAndGlyphs">0</text><text x="123.5" y="369.4" font-family="'Liberation Sans', Arial, sans-serif" font-size="33.0" font-weight="bold" text-anchor="end" fill="#231f1c" textLength="51.8" lengthAdjust="spacingAndGlyphs">100</text><text x="123.5" y="254.8" font-family="'Liberation Sans', Arial, sans-serif" font-size="33.0" font-weight="bold" text-anchor="end" fill="#231f1c" textLength="51.8" lengthAdjust="spacingAndGlyphs">200</text><text x="123.5" y="140.1" font-family="'Liberation Sans', Arial, sans-serif" font-size="33.0" font-weight="bold" text-anchor="end" fill="#231f1c" textLength="51.8" lengthAdjust="spacingAndGlyphs">300</text><text x="123.5" y="25.5" font-family="'Liberation Sans', Arial, sans-serif" font-size="33.0" font-weight="bold" text-anchor="end" fill="#231f1c" textLength="51.8" lengthAdjust="spacingAndGlyphs">400</text><text x="123.5" y="941.3" font-family="'Liberation Sans', Arial, sans-serif" font-size="33.0" font-weight="bold" text-anchor="end" fill="#231f1c" textLength="17.3" lengthAdjust="spacingAndGlyphs">0</text><text x="123.5" y="820.5" font-family="'Liberation Sans', Arial, sans-serif" font-size="33.0" font-weight="bold" text-anchor="end" fill="#231f1c" textLength="34.5" lengthAdjust="spacingAndGlyphs">40</text><text x="123.5" y="698.1" font-family="'Liberation Sans', Arial, sans-serif" font-size="33.0" font-weight="bold" text-anchor="end" fill="#231f1c" textLength="34.5" lengthAdjust="spacingAndGlyphs">80</text><text x="123.5" y="575.8" font-family="'Liberation Sans', Arial, sans-serif" font-size="33.0" font-weight="bold" text-anchor="end" fill="#231f1c" textLength="51.8" lengthAdjust="spacingAndGlyphs">120</text><text x="133.0" y="971.8" font-family="'Liberation Sans', Arial, sans-serif" font-size="32.0" font-weight="bold" text-anchor="middle" fill="#231f1c" textLength="59.9" lengthAdjust="spacingAndGlyphs">0.01</text><text x="287.0" y="971.8" font-family="'Liberation Sans', Arial, sans-serif" font-size="32.0" font-weight="bold" text-anchor="middle" fill="#231f1c" textLength="17.1" lengthAdjust="spacingAndGlyphs">1</text><text x="440.6" y="971.8" font-family="'Liberation Sans', Arial, sans-serif" font-size="32.0" font-weight="bold" text-anchor="middle" fill="#231f1c" textLength="51.4" lengthAdjust="spacingAndGlyphs">100</text><text x="593.6" y="971.8" font-family="'Liberation Sans', Arial, sans-serif" font-size="32.0" font-weight="bold" text-anchor="middle" fill="#231f1c" textLength="85.5" lengthAdjust="spacingAndGlyphs">10000</text><text x="225.5" y="1024.5" font-family="'Liberation Sans', Arial, sans-serif" font-size="37.5" font-weight="bold" text-anchor="start" fill="#231f1c" textLength="259.5" lengthAdjust="spacingAndGlyphs">Frequency /Hz</text><text transform="translate(46.7,359.3) rotate(-90)" font-family="'Liberation Sans', Arial, sans-serif" font-size="37" font-weight="bold" fill="#231f1c" textLength="233" lengthAdjust="spacingAndGlyphs">Z(Re) /<tspan font-family="'Liberation Serif', 'Times New Roman', serif" font-weight="normal">Ω</tspan>.cm2</text><text transform="translate(46.7,827.5) rotate(-90)" font-family="'Liberation Sans', Arial, sans-serif" font-size="37" font-weight="bold" fill="#231f1c" textLength="253.4" lengthAdjust="spacingAndGlyphs">- Z(Im) /<tspan font-family="'Liberation Serif', 'Times New Roman', serif" font-weight="normal">Ω</tspan>.cm2</text><text x="13.8" y="51.3" font-family="'Liberation Serif', 'Times New Roman', serif" font-size="46.0" font-weight="bold" text-anchor="start" fill="#000" >(a)</text>
<path d="M959.0,256.3V710.7M1110.5,256.3V710.7M1261.0,256.3V710.7M1413.0,256.3V710.7M807.6,407.6H1564.4M807.6,558.6H1564.4" stroke="#222" stroke-width="1.9" stroke-dasharray="5.2,2.6" fill="none"/><rect x="807.6" y="256.3" width="756.8" height="454.4" fill="none" stroke="#1e1e1e" stroke-width="4"/><path d="M807.6,407.6h12M1564.4,407.6h-8M807.6,558.6h12M1564.4,558.6h-8M959.0,256.3v10M959.0,710.7v-9M1110.5,256.3v10M1110.5,710.7v-9M1261.0,256.3v10M1261.0,710.7v-9M1413.0,256.3v10M1413.0,710.7v-9" stroke="#222" stroke-width="2" fill="none"/>
<path d="M985.20,628.00 C985.87,623.00 986.48,617.83 987.20,613.00 C987.92,608.17 988.67,604.50 989.50,599.00 C990.33,593.50 991.23,586.28 992.20,580.00 C993.17,573.72 993.83,567.57 995.30,561.30 C996.77,555.03 998.33,548.22 1001.00,542.40 C1003.67,536.58 1007.17,531.47 1011.30,526.40 C1015.43,521.33 1020.25,516.35 1025.80,512.00 C1031.35,507.65 1038.57,503.58 1044.60,500.30 C1050.63,497.02 1056.18,494.23 1062.00,492.30 C1067.82,490.37 1074.00,489.42 1079.50,488.70 C1085.00,487.98 1089.82,487.85 1095.00,488.00 C1100.18,488.15 1105.77,488.68 1110.60,489.60 C1115.43,490.52 1119.60,491.83 1124.00,493.50 C1128.40,495.17 1131.60,496.72 1137.00,499.60 C1142.40,502.48 1150.78,506.57 1156.40,510.80 C1162.02,515.03 1166.43,521.72 1170.70,525.00 C1174.97,528.28 1177.78,529.42 1182.00,530.50 C1186.22,531.58 1190.40,531.90 1196.00,531.50 C1201.60,531.10 1209.10,529.68 1215.60,528.10 C1222.10,526.52 1228.43,523.40 1235.00,522.00 C1241.57,520.60 1249.67,519.78 1255.00,519.70 C1260.33,519.62 1262.83,520.30 1267.00,521.50 C1271.17,522.70 1275.33,524.32 1280.00,526.90 C1284.67,529.48 1290.83,534.32 1295.00,537.00 C1299.17,539.68 1301.83,540.92 1305.00,543.00 C1308.17,545.08 1311.33,548.00 1314.00,549.50 C1316.67,551.00 1318.67,552.33 1321.00,552.00 C1323.33,551.67 1325.67,549.83 1328.00,547.50 C1330.33,545.17 1332.50,541.43 1335.00,538.00 C1337.50,534.57 1340.33,530.60 1343.00,526.90" stroke="#f5b50c" stroke-width="5" stroke-dasharray="14,6" fill="none"/>
<path d="M986.9,613.0h9.6v9.6h-9.6ZM989.8,600.0h9.6v9.6h-9.6ZM993.4,589.8h9.6v9.6h-9.6ZM997.0,579.7h9.6v9.6h-9.6ZM999.0,572.2h9.6v9.6h-9.6ZM1000.4,566.2h9.6v9.6h-9.6ZM1001.5,561.2h9.6v9.6h-9.6ZM1002.4,556.2h9.6v9.6h-9.6ZM1003.6,547.7h9.6v9.6h-9.6ZM1005.7,542.7h9.6v9.6h-9.6ZM1007.9,537.6h9.6v9.6h-9.6ZM1010.2,531.7h9.6v9.6h-9.6ZM1012.2,526.0h9.6v9.6h-9.6ZM1015.2,522.7h9.6v9.6h-9.6ZM1018.1,520.2h9.6v9.6h-9.6ZM1023.2,515.7h9.6v9.6h-9.6ZM1028.2,511.5h9.6v9.6h-9.6ZM1032.7,509.2h9.6v9.6h-9.6ZM1036.9,507.2h9.6v9.6h-9.6ZM1040.7,504.2h9.6v9.6h-9.6ZM1044.2,501.3h9.6v9.6h-9.6ZM1048.7,499.2h9.6v9.6h-9.6ZM1052.9,497.0h9.6v9.6h-9.6ZM1058.2,494.7h9.6v9.6h-9.6ZM1063.1,492.6h9.6v9.6h-9.6ZM1068.2,491.8h9.6v9.6h-9.6ZM1073.2,491.2h9.6v9.6h-9.6ZM1078.2,490.4h9.6v9.6h-9.6ZM1083.4,489.7h9.6v9.6h-9.6ZM1088.2,489.7h9.6v9.6h-9.6ZM1093.2,490.2h9.6v9.6h-9.6ZM1098.2,491.2h9.6v9.6h-9.6ZM1103.2,492.2h9.6v9.6h-9.6ZM1108.2,494.2h9.6v9.6h-9.6ZM1113.2,496.7h9.6v9.6h-9.6ZM1118.2,499.2h9.6v9.6h-9.6ZM1123.2,501.7h9.6v9.6h-9.6ZM1127.2,502.7h9.6v9.6h-9.6ZM1131.2,505.2h9.6v9.6h-9.6ZM1135.2,507.7h9.6v9.6h-9.6ZM1139.2,510.7h9.6v9.6h-9.6ZM1143.2,513.7h9.6v9.6h-9.6ZM1146.2,516.7h9.6v9.6h-9.6ZM1149.2,519.7h9.6v9.6h-9.6ZM1152.2,522.2h9.6v9.6h-9.6ZM1155.2,524.7h9.6v9.6h-9.6ZM1158.2,526.7h9.6v9.6h-9.6ZM1161.2,528.2h9.6v9.6h-9.6ZM1164.2,529.5h9.6v9.6h-9.6ZM1167.2,530.2h9.6v9.6h-9.6ZM1170.2,530.5h9.6v9.6h-9.6ZM1173.2,530.2h9.6v9.6h-9.6ZM1176.2,529.7h9.6v9.6h-9.6ZM1179.2,528.8h9.6v9.6h-9.6ZM1182.2,527.8h9.6v9.6h-9.6ZM1185.2,526.7h9.6v9.6h-9.6ZM1188.2,525.2h9.6v9.6h-9.6ZM1191.2,523.5h9.6v9.6h-9.6ZM1194.2,521.7h9.6v9.6h-9.6ZM1197.2,520.2h9.6v9.6h-9.6ZM1200.2,518.7h9.6v9.6h-9.6ZM1203.2,517.0h9.6v9.6h-9.6ZM1206.2,515.2h9.6v9.6h-9.6ZM1209.2,513.8h9.6v9.6h-9.6ZM1212.2,512.4h9.6v9.6h-9.6ZM1220.2,509.2h9.6v9.6h-9.6ZM1224.2,507.8h9.6v9.6h-9.6ZM1232.2,505.8h9.6v9.6h-9.6ZM1236.2,505.2h9.6v9.6h-9.6ZM1244.2,505.0h9.6v9.6h-9.6ZM1248.2,505.2h9.6v9.6h-9.6ZM1256.2,506.0h9.6v9.6h-9.6ZM1260.2,506.5h9.6v9.6h-9.6ZM1268.2,508.0h9.6v9.6h-9.6ZM1272.2,509.0h9.6v9.6h-9.6ZM1280.2,512.2h9.6v9.6h-9.6ZM1284.2,514.7h9.6v9.6h-9.6ZM1287.2,517.2h9.6v9.6h-9.6ZM1290.2,520.2h9.6v9.6h-9.6ZM1293.2,523.2h9.6v9.6h-9.6ZM1295.7,526.2h9.6v9.6h-9.6ZM1298.2,529.7h9.6v9.6h-9.6ZM1300.7,533.2h9.6v9.6h-9.6ZM1303.2,536.7h9.6v9.6h-9.6ZM1305.7,540.2h9.6v9.6h-9.6ZM1308.2,543.2h9.6v9.6h-9.6ZM1310.7,545.7h9.6v9.6h-9.6ZM1313.2,547.2h9.6v9.6h-9.6ZM1315.2,547.7h9.6v9.6h-9.6ZM1317.2,546.7h9.6v9.6h-9.6ZM1319.2,543.7h9.6v9.6h-9.6ZM1321.2,539.2h9.6v9.6h-9.6ZM1323.2,533.7h9.6v9.6h-9.6ZM1325.2,528.2h9.6v9.6h-9.6ZM1327.2,523.2h9.6v9.6h-9.6ZM1331.6,515.7h9.6v9.6h-9.6ZM1145.2,520.7h9.6v9.6h-9.6ZM1149.2,524.2h9.6v9.6h-9.6ZM1153.2,527.2h9.6v9.6h-9.6ZM1157.2,530.2h9.6v9.6h-9.6ZM1161.2,532.7h9.6v9.6h-9.6ZM1165.2,534.2h9.6v9.6h-9.6ZM1169.2,534.7h9.6v9.6h-9.6ZM1173.2,534.2h9.6v9.6h-9.6ZM1177.2,533.2h9.6v9.6h-9.6ZM1181.2,531.7h9.6v9.6h-9.6ZM1185.2,529.7h9.6v9.6h-9.6ZM1189.2,527.2h9.6v9.6h-9.6ZM1193.2,524.7h9.6v9.6h-9.6ZM1197.2,522.7h9.6v9.6h-9.6ZM1201.2,520.7h9.6v9.6h-9.6ZM1205.2,518.7h9.6v9.6h-9.6ZM1291.2,525.2h9.6v9.6h-9.6ZM1294.2,529.2h9.6v9.6h-9.6ZM1297.2,533.2h9.6v9.6h-9.6ZM1300.2,537.2h9.6v9.6h-9.6ZM1303.2,541.2h9.6v9.6h-9.6ZM1306.2,544.7h9.6v9.6h-9.6ZM1309.2,547.2h9.6v9.6h-9.6ZM1312.2,548.7h9.6v9.6h-9.6ZM1315.2,549.2h9.6v9.6h-9.6ZM1318.2,548.2h9.6v9.6h-9.6ZM1320.7,545.2h9.6v9.6h-9.6ZM1322.7,541.2h9.6v9.6h-9.6ZM1324.7,536.2h9.6v9.6h-9.6ZM1326.7,530.2h9.6v9.6h-9.6ZM1104.2,489.4h9.6v9.6h-9.6ZM1109.2,491.4h9.6v9.6h-9.6ZM1114.2,493.9h9.6v9.6h-9.6ZM1119.2,496.4h9.6v9.6h-9.6ZM1124.2,498.9h9.6v9.6h-9.6ZM1128.2,499.9h9.6v9.6h-9.6ZM1132.2,502.4h9.6v9.6h-9.6ZM1136.2,504.9h9.6v9.6h-9.6ZM1140.2,507.9h9.6v9.6h-9.6ZM1144.2,510.9h9.6v9.6h-9.6ZM1147.2,513.9h9.6v9.6h-9.6ZM1150.2,516.9h9.6v9.6h-9.6ZM1153.2,519.4h9.6v9.6h-9.6ZM1156.2,521.9h9.6v9.6h-9.6Z" stroke="#1414e8" stroke-width="2.2" fill="none"/>
<rect x="824" y="266.2" width="233" height="211" fill="#fff" stroke="#111" stroke-width="3.6"/><line x1="861.5" y1="303" x2="945.5" y2="303" stroke="#f5b40c" stroke-width="5.4" stroke-dasharray="16.5,5.8"/><line x1="863.5" y1="395.9" x2="947" y2="395.9" stroke="#1515e0" stroke-width="3.2"/><rect x="887" y="381.8" width="32.6" height="28.1" rx="1" fill="none" stroke="#1515e0" stroke-width="3.1"/><text x="968.5" y="309.7" font-family="'Liberation Serif', 'Times New Roman', serif" font-size="32.0" font-weight="normal" text-anchor="start" fill="#111" >WE</text><text x="866.0" y="347.5" font-family="'Liberation Serif', 'Times New Roman', serif" font-size="33.5" font-weight="normal" text-anchor="start" fill="#111" >(symm. cell)</text><text x="968.5" y="406.4" font-family="'Liberation Serif', 'Times New Roman', serif" font-size="32.0" font-weight="normal" text-anchor="start" fill="#111" >WE</text><text x="866.0" y="455.4" font-family="'Liberation Serif', 'Times New Roman', serif" font-size="33.0" font-weight="normal" text-anchor="start" fill="#111" >(vs. ref)</text>
<rect x="1121.2" y="310.5" width="178.8" height="19.2" fill="#6b8ee2"/><rect x="1121.2" y="329.7" width="178.8" height="20.6" fill="#f3efa8"/><rect x="1121.2" y="350.3" width="178.8" height="20.0" fill="#6b8ee2"/><path d="M1121.2,329.7H1300.0M1121.2,350.3H1300.0" stroke="#111" stroke-width="2"/><rect x="1121.2" y="310.5" width="178.8" height="59.8" fill="none" stroke="#222" stroke-width="1.4"/><rect x="1330.9" y="311.2" width="178.9" height="19.2" fill="#6b8ee2"/><rect x="1330.9" y="330.4" width="178.9" height="20.6" fill="#f3efa8"/><rect x="1330.9" y="351.0" width="178.9" height="20.0" fill="#dc7878"/><path d="M1330.9,330.4H1509.8M1330.9,351.0H1509.8" stroke="#111" stroke-width="2"/><rect x="1330.9" y="311.2" width="178.9" height="59.8" fill="none" stroke="#222" stroke-width="1.4"/><line x1="1334.9" y1="340.7" x2="1505.8" y2="340.7" stroke="#a855e8" stroke-width="2.5" stroke-dasharray="9,8"/><text x="1205.5" y="306.2" font-family="'Liberation Serif', 'Times New Roman', serif" font-size="31.0" font-weight="normal" text-anchor="middle" fill="#111" >WE</text><text x="1205.5" y="394.6" font-family="'Liberation Serif', 'Times New Roman', serif" font-size="31.0" font-weight="normal" text-anchor="middle" fill="#111" >WE</text><text x="1439.0" y="306.2" font-family="'Liberation Serif', 'Times New Roman', serif" font-size="31.0" font-weight="normal" text-anchor="middle" fill="#111" >WE</text><text x="1439.0" y="394.6" font-family="'Liberation Serif', 'Times New Roman', serif" font-size="31.0" font-weight="normal" text-anchor="middle" fill="#111" >CE</text><text x="1518.7" y="348.3" font-family="'Liberation Serif', 'Times New Roman', serif" font-size="31.0" font-weight="normal" text-anchor="start" fill="#111" >RE</text><line x1="1057" y1="336.7" x2="1097" y2="336.7" stroke="#111" stroke-width="3.4"/><path d="M1110,336.8L1094.5,326.6L1094.5,347Z" fill="#111"/><line x1="1057" y1="429.7" x2="1353" y2="386.4" stroke="#111" stroke-width="3.4"/><path d="M1366.3,384.0L1351.9,395.7L1349.1,376.9Z" fill="#111"/><line x1="1342" y1="592.7" x2="1329" y2="571" stroke="#111" stroke-width="3.3"/><path d="M1322.9,560.7L1339.4,568.9L1322.3,579.1Z" fill="#111"/><text x="1313.5" y="638.9" font-family="'Liberation Serif', 'Times New Roman', serif" font-size="31.5" font-weight="normal" text-anchor="start" fill="#111" >1 Hz</text>
<text x="792.5" y="256.5" font-family="'Liberation Serif', 'Times New Roman', serif" font-size="30.0" font-weight="normal" text-anchor="end" fill="#111" >-4</text><text x="792.5" y="408.5" font-family="'Liberation Serif', 'Times New Roman', serif" font-size="30.0" font-weight="normal" text-anchor="end" fill="#111" >-2</text><text x="792.5" y="559.5" font-family="'Liberation Serif', 'Times New Roman', serif" font-size="30.0" font-weight="normal" text-anchor="end" fill="#111" >0</text><text x="792.5" y="712.0" font-family="'Liberation Serif', 'Times New Roman', serif" font-size="30.0" font-weight="normal" text-anchor="end" fill="#111" >2</text><text x="810.0" y="748.0" font-family="'Liberation Serif', 'Times New Roman', serif" font-size="30.0" font-weight="normal" text-anchor="middle" fill="#111" >0</text><text x="950.0" y="748.0" font-family="'Liberation Serif', 'Times New Roman', serif" font-size="30.0" font-weight="normal" text-anchor="middle" fill="#111" >2</text><text x="1092.6" y="748.0" font-family="'Liberation Serif', 'Times New Roman', serif" font-size="30.0" font-weight="normal" text-anchor="middle" fill="#111" >4</text><text x="1234.2" y="748.0" font-family="'Liberation Serif', 'Times New Roman', serif" font-size="30.0" font-weight="normal" text-anchor="middle" fill="#111" >6</text><text x="1375.8" y="748.0" font-family="'Liberation Serif', 'Times New Roman', serif" font-size="30.0" font-weight="normal" text-anchor="middle" fill="#111" >8</text><text x="1526.5" y="748.0" font-family="'Liberation Serif', 'Times New Roman', serif" font-size="30.0" font-weight="normal" text-anchor="middle" fill="#111" >10</text><text x="1067" y="800.7" font-family="'Liberation Serif', 'Times New Roman', serif" font-size="34" fill="#111">Z‘‘ / Ω cm<tspan font-size="20.5" dy="-13">2</tspan></text><text transform="translate(736.4,550.5) rotate(-90)" font-family="'Liberation Serif', 'Times New Roman', serif" font-size="34" fill="#111">Z‘‘ / Ω cm<tspan font-size="20.5" dy="-13">2</tspan></text><text x="700.5" y="285.6" font-family="'Liberation Serif', 'Times New Roman', serif" font-size="46.0" font-weight="bold" text-anchor="start" fill="#000" >(b)</text>
</svg></body></html>
